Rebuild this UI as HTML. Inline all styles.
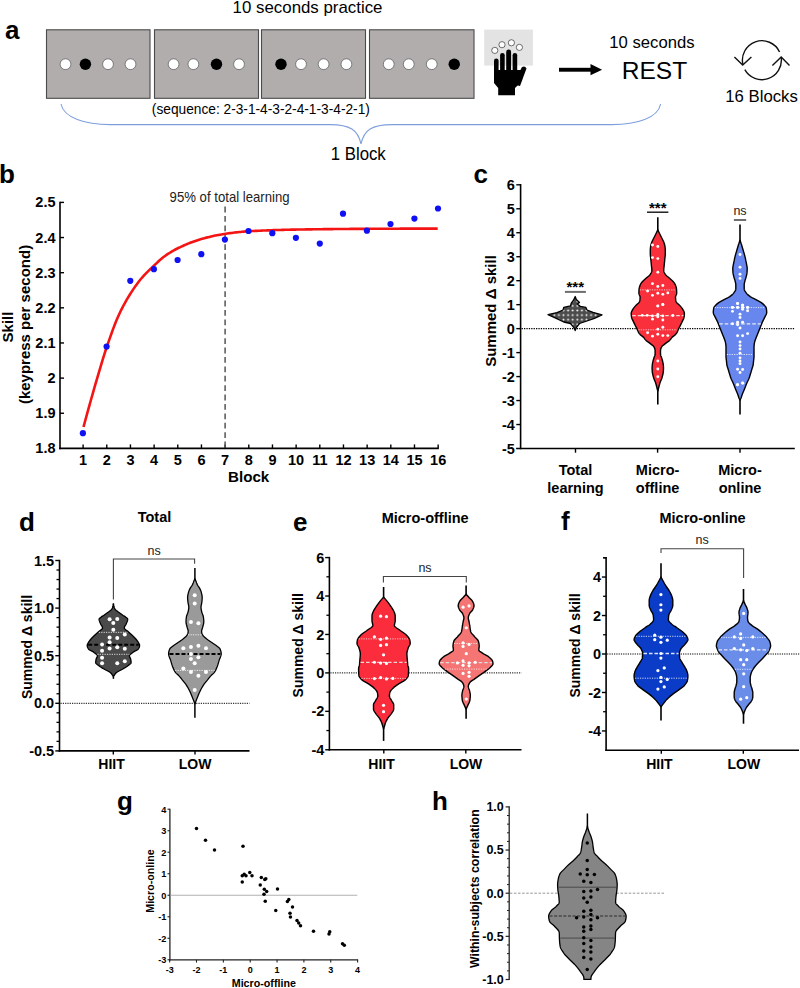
<!DOCTYPE html><html><head><meta charset="utf-8"><style>html,body{margin:0;padding:0;background:#fff;}svg{display:block;}text{font-family:"Liberation Sans",sans-serif;}</style></head><body>
<svg width="800" height="988" viewBox="0 0 800 988">
<rect width="800" height="988" fill="#fff"/>
<text x="5" y="38.5" font-size="26" font-weight="bold" text-anchor="start" fill="#000">a</text>
<text x="232.62" y="12.8" font-size="17" fill="#000" textLength="149.88" lengthAdjust="spacingAndGlyphs">10 seconds practice</text>
<rect x="46.5" y="29.8" width="103.5" height="68.5" fill="#b1adad" stroke="#4a4a4a" stroke-width="1.1"/>
<circle cx="65.5" cy="64.2" r="5.4" fill="#fff" stroke="#555" stroke-width="0.7"/>
<circle cx="85.4" cy="64.2" r="5.7" fill="#000"/>
<circle cx="108" cy="64.2" r="5.4" fill="#fff" stroke="#555" stroke-width="0.7"/>
<circle cx="130.5" cy="64.2" r="5.4" fill="#fff" stroke="#555" stroke-width="0.7"/>
<rect x="154.5" y="29.8" width="104" height="68.5" fill="#b1adad" stroke="#4a4a4a" stroke-width="1.1"/>
<circle cx="173.6" cy="64.2" r="5.4" fill="#fff" stroke="#555" stroke-width="0.7"/>
<circle cx="193.4" cy="64.2" r="5.4" fill="#fff" stroke="#555" stroke-width="0.7"/>
<circle cx="216.5" cy="64.2" r="5.7" fill="#000"/>
<circle cx="239" cy="64.2" r="5.4" fill="#fff" stroke="#555" stroke-width="0.7"/>
<rect x="261.5" y="29.8" width="104" height="68.5" fill="#b1adad" stroke="#4a4a4a" stroke-width="1.1"/>
<circle cx="281" cy="64.2" r="5.7" fill="#000"/>
<circle cx="301" cy="64.2" r="5.4" fill="#fff" stroke="#555" stroke-width="0.7"/>
<circle cx="323.6" cy="64.2" r="5.4" fill="#fff" stroke="#555" stroke-width="0.7"/>
<circle cx="346.4" cy="64.2" r="5.4" fill="#fff" stroke="#555" stroke-width="0.7"/>
<rect x="369.5" y="29.8" width="104.5" height="68.5" fill="#b1adad" stroke="#4a4a4a" stroke-width="1.1"/>
<circle cx="388.75" cy="64.2" r="5.4" fill="#fff" stroke="#555" stroke-width="0.7"/>
<circle cx="408.75" cy="64.2" r="5.4" fill="#fff" stroke="#555" stroke-width="0.7"/>
<circle cx="431.75" cy="64.2" r="5.4" fill="#fff" stroke="#555" stroke-width="0.7"/>
<circle cx="454.25" cy="64.2" r="5.7" fill="#000"/>
<rect x="484.2" y="29.6" width="48.7" height="36" fill="#e3e3e3"/>
<circle cx="494.8" cy="50.4" r="3.1" fill="#fff" stroke="#333" stroke-width="0.7"/>
<circle cx="502" cy="44.7" r="3.1" fill="#fff" stroke="#333" stroke-width="0.7"/>
<circle cx="511.4" cy="42.8" r="3.1" fill="#fff" stroke="#333" stroke-width="0.7"/>
<circle cx="519.4" cy="47.4" r="3.1" fill="#fff" stroke="#333" stroke-width="0.7"/>
<g fill="#000"><rect x="494" y="58.5" width="4.6" height="20" rx="2.3"/><rect x="500.1" y="53" width="4.6" height="22" rx="2.3"/><rect x="506.2" y="49.6" width="4.9" height="24" rx="2.45"/><rect x="512.6" y="53" width="4.6" height="22" rx="2.3"/><path d="M494,70 L521,70 L520,83 L515,88 L515,95.2 L498.2,95.2 L498.2,88 L494,83 Z"/><path d="M516,85 L520,86 L526.5,68.5 Q525,65.5 521.8,67.2 L516.5,78 Z"/></g>
<rect x="559" y="67.8" width="32" height="3.9" fill="#000"/>
<path d="M590.5,64 L602.1,69.7 L590.5,75.3 Z" fill="#000"/>
<text x="609.33" y="47.5" font-size="16.5" fill="#000" textLength="85.27" lengthAdjust="spacingAndGlyphs">10 seconds</text>
<text x="621.74" y="79.4" font-size="24.3" fill="#000" textLength="65.43" lengthAdjust="spacingAndGlyphs">REST</text>
<g fill="none" stroke="#111" stroke-width="1.4"><path d="M742.98,64.92 A19.5,19.5 0 0 1 779.57,51.96"/><path d="M744.84,69.65 A19.5,19.5 0 0 0 781.21,57.49"/><path d="M734.4,57.1 L742.7,65 L751.4,57.1"/><path d="M772.4,65.4 L781.2,57 L789.5,65.4"/></g>
<text x="725.22" y="102.2" font-size="17" fill="#000" textLength="72.58" lengthAdjust="spacingAndGlyphs">16 Blocks</text>
<path d="M61,104 C64,118 85,124.6 110,124.6 L330,124.6 C350,124.6 358,130 361,144 C364,130 372,124.6 392,124.6 L612,124.6 C637,124.6 658,118 660.6,104" fill="none" stroke="#7f9fdc" stroke-width="1.1"/>
<text x="151.85" y="114" font-size="14" fill="#000" textLength="218" lengthAdjust="spacingAndGlyphs">(sequence: 2-3-1-4-3-2-4-1-3-4-2-1)</text>
<text x="330.72" y="159.9" font-size="18" fill="#000" textLength="55.05" lengthAdjust="spacingAndGlyphs">1 Block</text>
<text x="-1" y="183.4" font-size="26" font-weight="bold" text-anchor="start" fill="#000">b</text>
<line x1="60" y1="201.7" x2="60" y2="449.2" stroke="#000" stroke-width="1.6"/>
<line x1="59.2" y1="448.4" x2="438.8" y2="448.4" stroke="#000" stroke-width="1.6"/>
<line x1="60" y1="202.4" x2="64" y2="202.4" stroke="#000" stroke-width="1.4"/>
<text x="55.5" y="207.4" font-size="14.5" font-weight="bold" text-anchor="end" fill="#000">2.5</text>
<line x1="60" y1="237.54" x2="64" y2="237.54" stroke="#000" stroke-width="1.4"/>
<text x="55.5" y="242.54" font-size="14.5" font-weight="bold" text-anchor="end" fill="#000">2.4</text>
<line x1="60" y1="272.69" x2="64" y2="272.69" stroke="#000" stroke-width="1.4"/>
<text x="55.5" y="277.69" font-size="14.5" font-weight="bold" text-anchor="end" fill="#000">2.3</text>
<line x1="60" y1="307.83" x2="64" y2="307.83" stroke="#000" stroke-width="1.4"/>
<text x="55.5" y="312.83" font-size="14.5" font-weight="bold" text-anchor="end" fill="#000">2.2</text>
<line x1="60" y1="342.97" x2="64" y2="342.97" stroke="#000" stroke-width="1.4"/>
<text x="55.5" y="347.97" font-size="14.5" font-weight="bold" text-anchor="end" fill="#000">2.1</text>
<line x1="60" y1="378.11" x2="64" y2="378.11" stroke="#000" stroke-width="1.4"/>
<text x="55.5" y="383.11" font-size="14.5" font-weight="bold" text-anchor="end" fill="#000">2</text>
<line x1="60" y1="413.26" x2="64" y2="413.26" stroke="#000" stroke-width="1.4"/>
<text x="55.5" y="418.26" font-size="14.5" font-weight="bold" text-anchor="end" fill="#000">1.9</text>
<text x="55.5" y="453.4" font-size="14.5" font-weight="bold" text-anchor="end" fill="#000">1.8</text>
<line x1="83.1" y1="448.4" x2="83.1" y2="444.4" stroke="#000" stroke-width="1.4"/>
<text x="83.1" y="465.1" font-size="14.5" font-weight="bold" text-anchor="middle" fill="#000">1</text>
<line x1="106.77" y1="448.4" x2="106.77" y2="444.4" stroke="#000" stroke-width="1.4"/>
<text x="106.77" y="465.1" font-size="14.5" font-weight="bold" text-anchor="middle" fill="#000">2</text>
<line x1="130.44" y1="448.4" x2="130.44" y2="444.4" stroke="#000" stroke-width="1.4"/>
<text x="130.44" y="465.1" font-size="14.5" font-weight="bold" text-anchor="middle" fill="#000">3</text>
<line x1="154.11" y1="448.4" x2="154.11" y2="444.4" stroke="#000" stroke-width="1.4"/>
<text x="154.11" y="465.1" font-size="14.5" font-weight="bold" text-anchor="middle" fill="#000">4</text>
<line x1="177.78" y1="448.4" x2="177.78" y2="444.4" stroke="#000" stroke-width="1.4"/>
<text x="177.78" y="465.1" font-size="14.5" font-weight="bold" text-anchor="middle" fill="#000">5</text>
<line x1="201.45" y1="448.4" x2="201.45" y2="444.4" stroke="#000" stroke-width="1.4"/>
<text x="201.45" y="465.1" font-size="14.5" font-weight="bold" text-anchor="middle" fill="#000">6</text>
<line x1="225.12" y1="448.4" x2="225.12" y2="444.4" stroke="#000" stroke-width="1.4"/>
<text x="225.12" y="465.1" font-size="14.5" font-weight="bold" text-anchor="middle" fill="#000">7</text>
<line x1="248.79" y1="448.4" x2="248.79" y2="444.4" stroke="#000" stroke-width="1.4"/>
<text x="248.79" y="465.1" font-size="14.5" font-weight="bold" text-anchor="middle" fill="#000">8</text>
<line x1="272.46" y1="448.4" x2="272.46" y2="444.4" stroke="#000" stroke-width="1.4"/>
<text x="272.46" y="465.1" font-size="14.5" font-weight="bold" text-anchor="middle" fill="#000">9</text>
<line x1="296.13" y1="448.4" x2="296.13" y2="444.4" stroke="#000" stroke-width="1.4"/>
<text x="296.13" y="465.1" font-size="14.5" font-weight="bold" text-anchor="middle" fill="#000">10</text>
<line x1="319.8" y1="448.4" x2="319.8" y2="444.4" stroke="#000" stroke-width="1.4"/>
<text x="319.8" y="465.1" font-size="14.5" font-weight="bold" text-anchor="middle" fill="#000">11</text>
<line x1="343.47" y1="448.4" x2="343.47" y2="444.4" stroke="#000" stroke-width="1.4"/>
<text x="343.47" y="465.1" font-size="14.5" font-weight="bold" text-anchor="middle" fill="#000">12</text>
<line x1="367.14" y1="448.4" x2="367.14" y2="444.4" stroke="#000" stroke-width="1.4"/>
<text x="367.14" y="465.1" font-size="14.5" font-weight="bold" text-anchor="middle" fill="#000">13</text>
<line x1="390.81" y1="448.4" x2="390.81" y2="444.4" stroke="#000" stroke-width="1.4"/>
<text x="390.81" y="465.1" font-size="14.5" font-weight="bold" text-anchor="middle" fill="#000">14</text>
<line x1="414.48" y1="448.4" x2="414.48" y2="444.4" stroke="#000" stroke-width="1.4"/>
<text x="414.48" y="465.1" font-size="14.5" font-weight="bold" text-anchor="middle" fill="#000">15</text>
<line x1="438.15" y1="448.4" x2="438.15" y2="444.4" stroke="#000" stroke-width="1.4"/>
<text x="438.15" y="465.1" font-size="14.5" font-weight="bold" text-anchor="middle" fill="#000">16</text>
<text x="227.99" y="482" font-size="15.3" font-weight="bold" fill="#000" textLength="41.25" lengthAdjust="spacingAndGlyphs">Block</text>
<text x="12.5" y="327" font-size="15" font-weight="bold" text-anchor="middle" fill="#000" transform="rotate(-90 12.5 327)">Skill</text>
<text x="29.6" y="324.5" font-size="15" font-weight="bold" text-anchor="middle" fill="#000" transform="rotate(-90 29.6 324.5)">(keypress per second)</text>
<text x="169.58" y="202.1" font-size="14.2" fill="#222" textLength="120.07" lengthAdjust="spacingAndGlyphs">95% of total learning</text>
<line x1="225.1" y1="206.6" x2="225.1" y2="448.4" stroke="#555" stroke-width="1.5" stroke-dasharray="5.8 3.6"/>
<path d="M83.5,427 L84.98,421.49 L86.46,416.04 L87.95,410.64 L89.43,405.3 L90.91,400.02 L92.39,394.79 L93.87,389.61 L95.36,384.48 L96.84,379.4 L98.32,374.36 L99.8,369.31 L101.28,364.3 L102.77,359.39 L104.25,354.6 L105.73,349.99 L107.21,345.6 L108.69,341.3 L110.18,337.08 L111.66,332.94 L113.14,328.92 L114.62,325.04 L116.1,321.31 L117.59,317.77 L119.07,314.43 L120.55,311.3 L122.03,308.32 L123.51,305.48 L125,302.76 L126.48,300.16 L127.96,297.66 L129.44,295.24 L130.92,292.89 L132.41,290.61 L133.89,288.4 L135.37,286.25 L136.85,284.19 L138.33,282.2 L139.82,280.3 L141.3,278.49 L142.78,276.78 L144.26,275.16 L145.74,273.61 L147.23,272.12 L148.71,270.68 L150.19,269.27 L151.67,267.86 L153.15,266.46 L154.64,265.03 L156.12,263.61 L157.6,262.19 L159.08,260.81 L160.56,259.48 L162.05,258.22 L163.53,257.05 L165.01,255.97 L166.49,254.93 L167.97,253.93 L169.46,252.97 L170.94,252.05 L172.42,251.16 L173.9,250.32 L175.38,249.52 L176.87,248.76 L178.35,248.04 L179.83,247.33 L181.31,246.64 L182.79,245.96 L184.28,245.3 L185.76,244.65 L187.24,244.02 L188.72,243.41 L190.2,242.82 L191.69,242.25 L193.17,241.7 L194.65,241.17 L196.13,240.65 L197.61,240.16 L199.1,239.7 L200.58,239.25 L202.06,238.83 L203.54,238.42 L205.02,238.02 L206.51,237.63 L207.99,237.25 L209.47,236.89 L210.95,236.53 L212.43,236.19 L213.92,235.85 L215.4,235.54 L216.88,235.23 L218.36,234.94 L219.84,234.67 L221.33,234.41 L222.81,234.16 L224.29,233.93 L225.77,233.72 L227.25,233.51 L228.74,233.31 L230.22,233.11 L231.7,232.92 L233.18,232.74 L234.66,232.56 L236.15,232.39 L237.63,232.23 L239.11,232.07 L240.59,231.92 L242.07,231.78 L243.56,231.65 L245.04,231.53 L246.52,231.42 L248,231.32 L249.48,231.23 L250.97,231.15 L252.45,231.07 L253.93,230.99 L255.41,230.92 L256.89,230.85 L258.38,230.78 L259.86,230.71 L261.34,230.64 L262.82,230.57 L264.31,230.51 L265.79,230.45 L267.27,230.39 L268.75,230.33 L270.23,230.28 L271.72,230.22 L273.2,230.17 L274.68,230.12 L276.16,230.07 L277.64,230.02 L279.13,229.98 L280.61,229.93 L282.09,229.89 L283.57,229.85 L285.05,229.81 L286.54,229.77 L288.02,229.74 L289.5,229.7 L290.98,229.67 L292.46,229.64 L293.95,229.61 L295.43,229.58 L296.91,229.55 L298.39,229.53 L299.87,229.5 L301.36,229.48 L302.84,229.46 L304.32,229.43 L305.8,229.41 L307.28,229.39 L308.77,229.37 L310.25,229.35 L311.73,229.33 L313.21,229.31 L314.69,229.29 L316.18,229.27 L317.66,229.25 L319.14,229.23 L320.62,229.21 L322.1,229.19 L323.59,229.17 L325.07,229.16 L326.55,229.14 L328.03,229.12 L329.51,229.11 L331,229.09 L332.48,229.08 L333.96,229.06 L335.44,229.05 L336.92,229.03 L338.41,229.02 L339.89,229 L341.37,228.99 L342.85,228.98 L344.33,228.97 L345.82,228.95 L347.3,228.94 L348.78,228.93 L350.26,228.92 L351.74,228.91 L353.23,228.9 L354.71,228.89 L356.19,228.88 L357.67,228.87 L359.15,228.86 L360.64,228.85 L362.12,228.84 L363.6,228.83 L365.08,228.82 L366.56,228.82 L368.05,228.81 L369.53,228.8 L371.01,228.8 L372.49,228.79 L373.97,228.78 L375.46,228.78 L376.94,228.77 L378.42,228.76 L379.9,228.76 L381.38,228.75 L382.87,228.74 L384.35,228.74 L385.83,228.73 L387.31,228.72 L388.79,228.72 L390.28,228.71 L391.76,228.71 L393.24,228.7 L394.72,228.69 L396.2,228.69 L397.69,228.68 L399.17,228.68 L400.65,228.67 L402.13,228.67 L403.61,228.66 L405.1,228.66 L406.58,228.65 L408.06,228.65 L409.54,228.64 L411.02,228.64 L412.51,228.64 L413.99,228.63 L415.47,228.63 L416.95,228.62 L418.43,228.62 L419.92,228.62 L421.4,228.62 L422.88,228.61 L424.36,228.61 L425.84,228.61 L427.33,228.61 L428.81,228.6 L430.29,228.6 L431.77,228.6 L433.25,228.6 L434.74,228.6 L436.22,228.6 L437.7,228.6" fill="none" stroke="#f41414" stroke-width="2.6" stroke-linecap="butt"/>
<circle cx="82.9" cy="433.2" r="3.1" fill="#1010f4"/>
<circle cx="106.6" cy="346.6" r="3.1" fill="#1010f4"/>
<circle cx="130.3" cy="280.8" r="3.1" fill="#1010f4"/>
<circle cx="153.9" cy="269.2" r="3.1" fill="#1010f4"/>
<circle cx="177.6" cy="260" r="3.1" fill="#1010f4"/>
<circle cx="201.3" cy="254.2" r="3.1" fill="#1010f4"/>
<circle cx="224.9" cy="239.6" r="3.1" fill="#1010f4"/>
<circle cx="248.5" cy="231" r="3.1" fill="#1010f4"/>
<circle cx="272.3" cy="233.2" r="3.1" fill="#1010f4"/>
<circle cx="295.9" cy="237.8" r="3.1" fill="#1010f4"/>
<circle cx="319.8" cy="243.6" r="3.1" fill="#1010f4"/>
<circle cx="343" cy="213.7" r="3.1" fill="#1010f4"/>
<circle cx="366.9" cy="230.7" r="3.1" fill="#1010f4"/>
<circle cx="390.5" cy="224" r="3.1" fill="#1010f4"/>
<circle cx="414.4" cy="218.6" r="3.1" fill="#1010f4"/>
<circle cx="438" cy="208.5" r="3.1" fill="#1010f4"/>
<text x="473.5" y="183.2" font-size="26" font-weight="bold" text-anchor="start" fill="#000">c</text>
<line x1="520.6" y1="184.1" x2="520.6" y2="449.3" stroke="#000" stroke-width="1.6"/>
<line x1="516.1" y1="448.5" x2="794.8" y2="448.5" stroke="#000" stroke-width="1.6"/>
<line x1="516.3" y1="184.8" x2="520.6" y2="184.8" stroke="#000" stroke-width="1.4"/>
<text x="514.8" y="190" font-size="14.5" font-weight="bold" text-anchor="end" fill="#000">6</text>
<line x1="516.3" y1="208.77" x2="520.6" y2="208.77" stroke="#000" stroke-width="1.4"/>
<text x="514.8" y="213.97" font-size="14.5" font-weight="bold" text-anchor="end" fill="#000">5</text>
<line x1="516.3" y1="232.75" x2="520.6" y2="232.75" stroke="#000" stroke-width="1.4"/>
<text x="514.8" y="237.95" font-size="14.5" font-weight="bold" text-anchor="end" fill="#000">4</text>
<line x1="516.3" y1="256.72" x2="520.6" y2="256.72" stroke="#000" stroke-width="1.4"/>
<text x="514.8" y="261.92" font-size="14.5" font-weight="bold" text-anchor="end" fill="#000">3</text>
<line x1="516.3" y1="280.69" x2="520.6" y2="280.69" stroke="#000" stroke-width="1.4"/>
<text x="514.8" y="285.89" font-size="14.5" font-weight="bold" text-anchor="end" fill="#000">2</text>
<line x1="516.3" y1="304.66" x2="520.6" y2="304.66" stroke="#000" stroke-width="1.4"/>
<text x="514.8" y="309.86" font-size="14.5" font-weight="bold" text-anchor="end" fill="#000">1</text>
<line x1="516.3" y1="328.64" x2="520.6" y2="328.64" stroke="#000" stroke-width="1.4"/>
<text x="514.8" y="333.84" font-size="14.5" font-weight="bold" text-anchor="end" fill="#000">0</text>
<line x1="516.3" y1="352.61" x2="520.6" y2="352.61" stroke="#000" stroke-width="1.4"/>
<text x="514.8" y="357.81" font-size="14.5" font-weight="bold" text-anchor="end" fill="#000">-1</text>
<line x1="516.3" y1="376.58" x2="520.6" y2="376.58" stroke="#000" stroke-width="1.4"/>
<text x="514.8" y="381.78" font-size="14.5" font-weight="bold" text-anchor="end" fill="#000">-2</text>
<line x1="516.3" y1="400.55" x2="520.6" y2="400.55" stroke="#000" stroke-width="1.4"/>
<text x="514.8" y="405.75" font-size="14.5" font-weight="bold" text-anchor="end" fill="#000">-3</text>
<line x1="516.3" y1="424.53" x2="520.6" y2="424.53" stroke="#000" stroke-width="1.4"/>
<text x="514.8" y="429.73" font-size="14.5" font-weight="bold" text-anchor="end" fill="#000">-4</text>
<text x="514.8" y="453.7" font-size="14.5" font-weight="bold" text-anchor="end" fill="#000">-5</text>
<line x1="575.5" y1="448.5" x2="575.5" y2="452.7" stroke="#000" stroke-width="1.4"/>
<line x1="657.6" y1="448.5" x2="657.6" y2="452.7" stroke="#000" stroke-width="1.4"/>
<line x1="740" y1="448.5" x2="740" y2="452.7" stroke="#000" stroke-width="1.4"/>
<text x="495.8" y="311" font-size="15" font-weight="bold" text-anchor="middle" fill="#000" transform="rotate(-90 495.8 311)">Summed &#916; skill</text>
<text x="575.5" y="474.8" font-size="14.5" font-weight="bold" text-anchor="middle" fill="#000">Total</text>
<text x="575.5" y="492.5" font-size="14.5" font-weight="bold" text-anchor="middle" fill="#000">learning</text>
<text x="657.6" y="474.6" font-size="14.5" font-weight="bold" text-anchor="middle" fill="#000">Micro-</text>
<text x="657.6" y="492.5" font-size="14.5" font-weight="bold" text-anchor="middle" fill="#000">offline</text>
<text x="740" y="474.6" font-size="14.5" font-weight="bold" text-anchor="middle" fill="#000">Micro-</text>
<text x="740" y="492.5" font-size="14.5" font-weight="bold" text-anchor="middle" fill="#000">online</text>
<line x1="521.6" y1="328.64" x2="795" y2="328.64" stroke="#000" stroke-width="1.1" stroke-dasharray="1.3 1.1"/>
<defs><pattern id="dotpat" width="4.6" height="4.6" patternUnits="userSpaceOnUse" x="0" y="0"><rect width="4.6" height="4.6" fill="#4c4c4c"/><circle cx="2.3" cy="2.3" r="0.95" fill="#fff"/></pattern></defs>
<path d="M575.2,296.5 L576.3,299.5 L579.5,302.5 L577.3,304 L580.3,306.3 L585.9,307.4 L587,310 L593,312.3 L602,314.9 L594.5,318.3 L584,322 L579.5,323.5 L576.5,327.3 L575.2,330.6 L573.7,327.3 L570.5,323.5 L563.75,322 L556.25,318.3 L548,314.6 L557,312.6 L563,310 L563.75,307.4 L570.5,305.9 L571.25,303.25 L573.5,300.25 Z" fill="url(#dotpat)" stroke="#000" stroke-width="1.3" stroke-linejoin="round"/>
<text x="575.3" y="292" font-size="15" font-weight="bold" text-anchor="middle" fill="#000">***</text>
<line x1="564.9" y1="291.9" x2="585.9" y2="291.9" stroke="#6e6e6e" stroke-width="2"/>
<path d="M657.8,229.8 L658.02,230.3 L658.25,230.8 L658.48,231.3 L658.71,231.8 L658.94,232.3 L659.17,232.79 L659.41,233.29 L659.65,233.79 L659.89,234.29 L660.14,234.79 L660.39,235.29 L660.64,235.79 L660.89,236.29 L661.14,236.79 L661.39,237.29 L661.64,237.79 L661.89,238.28 L662.15,238.78 L662.41,239.28 L662.68,239.78 L662.93,240.28 L663.18,240.78 L663.41,241.28 L663.61,241.78 L663.8,242.28 L663.99,242.78 L664.17,243.27 L664.34,243.77 L664.5,244.27 L664.64,244.77 L664.76,245.27 L664.86,245.77 L664.94,246.27 L665.01,246.77 L665.08,247.27 L665.14,247.77 L665.2,248.27 L665.24,248.76 L665.28,249.26 L665.3,249.76 L665.3,250.26 L665.3,250.76 L665.3,251.26 L665.3,251.76 L665.3,252.26 L665.3,252.76 L665.3,253.26 L665.3,253.76 L665.3,254.25 L665.28,254.75 L665.25,255.25 L665.2,255.75 L665.14,256.25 L665.07,256.75 L665.01,257.25 L664.95,257.75 L664.9,258.25 L664.85,258.75 L664.8,259.25 L664.75,259.74 L664.7,260.24 L664.65,260.74 L664.6,261.24 L664.55,261.74 L664.5,262.24 L664.45,262.74 L664.4,263.24 L664.35,263.74 L664.3,264.24 L664.25,264.73 L664.2,265.23 L664.16,265.73 L664.11,266.23 L664.05,266.73 L663.99,267.23 L663.92,267.73 L663.86,268.23 L663.8,268.73 L663.75,269.23 L663.72,269.73 L663.7,270.22 L663.73,270.72 L663.82,271.22 L663.97,271.72 L664.17,272.22 L664.41,272.72 L664.68,273.22 L664.96,273.72 L665.25,274.22 L665.59,274.72 L666.03,275.22 L666.56,275.71 L667.15,276.21 L667.77,276.71 L668.4,277.21 L669.02,277.71 L669.6,278.21 L670.13,278.71 L670.67,279.21 L671.22,279.71 L671.76,280.21 L672.29,280.71 L672.79,281.2 L673.25,281.7 L673.65,282.2 L674.01,282.7 L674.36,283.2 L674.68,283.7 L674.99,284.2 L675.26,284.7 L675.5,285.2 L675.7,285.7 L675.86,286.2 L676,286.69 L676.13,287.19 L676.25,287.69 L676.36,288.19 L676.45,288.69 L676.53,289.19 L676.58,289.69 L676.61,290.19 L676.63,290.69 L676.66,291.19 L676.68,291.68 L676.69,292.18 L676.7,292.68 L676.7,293.18 L676.63,293.68 L676.48,294.18 L676.29,294.68 L676.06,295.18 L675.85,295.68 L675.66,296.18 L675.54,296.68 L675.5,297.17 L675.51,297.67 L675.53,298.17 L675.57,298.67 L675.61,299.17 L675.67,299.67 L675.73,300.17 L675.81,300.67 L675.89,301.17 L676.06,301.67 L676.38,302.17 L676.81,302.66 L677.33,303.16 L677.89,303.66 L678.46,304.16 L678.99,304.66 L679.47,305.16 L679.89,305.66 L680.32,306.16 L680.75,306.66 L681.17,307.16 L681.57,307.66 L681.96,308.15 L682.31,308.65 L682.62,309.15 L682.9,309.65 L683.19,310.15 L683.48,310.65 L683.75,311.15 L683.99,311.65 L684.19,312.15 L684.33,312.65 L684.4,313.14 L684.4,313.64 L684.38,314.14 L684.35,314.64 L684.3,315.14 L684.25,315.64 L684.19,316.14 L684.12,316.64 L684.04,317.14 L683.96,317.64 L683.82,318.14 L683.64,318.63 L683.42,319.13 L683.18,319.63 L682.93,320.13 L682.67,320.63 L682.43,321.13 L682.2,321.63 L681.96,322.13 L681.72,322.63 L681.48,323.13 L681.23,323.63 L680.99,324.12 L680.74,324.62 L680.49,325.12 L680.24,325.62 L679.99,326.12 L679.74,326.62 L679.49,327.12 L679.24,327.62 L678.99,328.12 L678.74,328.62 L678.49,329.12 L678.24,329.61 L678.01,330.11 L677.8,330.61 L677.58,331.11 L677.37,331.61 L677.14,332.11 L676.89,332.61 L676.61,333.11 L676.3,333.61 L675.89,334.11 L675.37,334.6 L674.78,335.1 L674.15,335.6 L673.5,336.1 L672.87,336.6 L672.29,337.1 L671.8,337.6 L671.4,338.1 L671.05,338.6 L670.72,339.1 L670.35,339.6 L669.91,340.09 L669.36,340.59 L668.73,341.09 L668.03,341.59 L667.31,342.09 L666.59,342.59 L665.91,343.09 L665.3,343.59 L664.68,344.09 L664.04,344.59 L663.41,345.09 L662.82,345.58 L662.3,346.08 L661.87,346.58 L661.56,347.08 L661.33,347.58 L661.11,348.08 L660.92,348.58 L660.75,349.08 L660.62,349.58 L660.53,350.08 L660.5,350.58 L660.5,351.07 L660.5,351.57 L660.5,352.07 L660.5,352.57 L660.5,353.07 L660.5,353.57 L660.5,354.07 L660.52,354.57 L660.61,355.07 L660.76,355.57 L660.94,356.07 L661.13,356.56 L661.33,357.06 L661.51,357.56 L661.66,358.06 L661.82,358.56 L661.98,359.06 L662.14,359.56 L662.29,360.06 L662.43,360.56 L662.57,361.06 L662.68,361.55 L662.8,362.05 L662.92,362.55 L663.03,363.05 L663.13,363.55 L663.21,364.05 L663.27,364.55 L663.32,365.05 L663.36,365.55 L663.4,366.05 L663.44,366.55 L663.47,367.04 L663.49,367.54 L663.5,368.04 L663.5,368.54 L663.49,369.04 L663.47,369.54 L663.44,370.04 L663.41,370.54 L663.37,371.04 L663.33,371.54 L663.29,372.04 L663.22,372.53 L663.14,373.03 L663.04,373.53 L662.93,374.03 L662.81,374.53 L662.69,375.03 L662.57,375.53 L662.44,376.03 L662.31,376.53 L662.17,377.03 L662.03,377.53 L661.87,378.02 L661.71,378.52 L661.54,379.02 L661.36,379.52 L661.15,380.02 L660.93,380.52 L660.7,381.02 L660.48,381.52 L660.28,382.02 L660.09,382.52 L659.93,383.01 L659.78,383.51 L659.64,384.01 L659.5,384.51 L659.36,385.01 L659.23,385.51 L659.1,386.01 L658.97,386.51 L658.84,387.01 L658.72,387.51 L658.6,388.01 L658.48,388.5 L658.36,389 L658.23,389.5 L658.09,390 L657.95,390.5 L657.8,391 L657.8,391 L657.65,390.5 L657.51,390 L657.37,389.5 L657.24,389 L657.12,388.5 L657,388.01 L656.88,387.51 L656.76,387.01 L656.63,386.51 L656.5,386.01 L656.37,385.51 L656.24,385.01 L656.1,384.51 L655.96,384.01 L655.82,383.51 L655.67,383.01 L655.51,382.52 L655.32,382.02 L655.12,381.52 L654.9,381.02 L654.67,380.52 L654.45,380.02 L654.24,379.52 L654.06,379.02 L653.89,378.52 L653.73,378.02 L653.57,377.53 L653.43,377.03 L653.29,376.53 L653.16,376.03 L653.03,375.53 L652.91,375.03 L652.79,374.53 L652.67,374.03 L652.56,373.53 L652.46,373.03 L652.38,372.53 L652.31,372.04 L652.27,371.54 L652.23,371.04 L652.19,370.54 L652.16,370.04 L652.13,369.54 L652.11,369.04 L652.1,368.54 L652.1,368.04 L652.11,367.54 L652.13,367.04 L652.16,366.55 L652.2,366.05 L652.24,365.55 L652.28,365.05 L652.33,364.55 L652.39,364.05 L652.47,363.55 L652.57,363.05 L652.68,362.55 L652.8,362.05 L652.92,361.55 L653.03,361.06 L653.17,360.56 L653.31,360.06 L653.46,359.56 L653.62,359.06 L653.78,358.56 L653.94,358.06 L654.09,357.56 L654.27,357.06 L654.47,356.56 L654.66,356.07 L654.84,355.57 L654.99,355.07 L655.08,354.57 L655.1,354.07 L655.1,353.57 L655.1,353.07 L655.1,352.57 L655.1,352.07 L655.1,351.57 L655.1,351.07 L655.1,350.58 L655.07,350.08 L654.98,349.58 L654.85,349.08 L654.68,348.58 L654.49,348.08 L654.27,347.58 L654.04,347.08 L653.73,346.58 L653.3,346.08 L652.78,345.58 L652.19,345.09 L651.56,344.59 L650.92,344.09 L650.3,343.59 L649.69,343.09 L649.01,342.59 L648.29,342.09 L647.57,341.59 L646.87,341.09 L646.24,340.59 L645.69,340.09 L645.25,339.6 L644.88,339.1 L644.55,338.6 L644.2,338.1 L643.8,337.6 L643.31,337.1 L642.73,336.6 L642.1,336.1 L641.45,335.6 L640.82,335.1 L640.23,334.6 L639.71,334.11 L639.3,333.61 L638.99,333.11 L638.71,332.61 L638.46,332.11 L638.23,331.61 L638.02,331.11 L637.8,330.61 L637.59,330.11 L637.36,329.61 L637.11,329.12 L636.86,328.62 L636.61,328.12 L636.36,327.62 L636.11,327.12 L635.86,326.62 L635.61,326.12 L635.36,325.62 L635.11,325.12 L634.86,324.62 L634.61,324.12 L634.37,323.63 L634.12,323.13 L633.88,322.63 L633.64,322.13 L633.4,321.63 L633.17,321.13 L632.93,320.63 L632.67,320.13 L632.42,319.63 L632.18,319.13 L631.96,318.63 L631.78,318.14 L631.64,317.64 L631.56,317.14 L631.48,316.64 L631.41,316.14 L631.35,315.64 L631.3,315.14 L631.25,314.64 L631.22,314.14 L631.2,313.64 L631.2,313.14 L631.27,312.65 L631.41,312.15 L631.61,311.65 L631.85,311.15 L632.12,310.65 L632.41,310.15 L632.7,309.65 L632.98,309.15 L633.29,308.65 L633.64,308.15 L634.03,307.66 L634.43,307.16 L634.85,306.66 L635.28,306.16 L635.71,305.66 L636.13,305.16 L636.61,304.66 L637.14,304.16 L637.71,303.66 L638.27,303.16 L638.79,302.66 L639.22,302.17 L639.54,301.67 L639.71,301.17 L639.79,300.67 L639.87,300.17 L639.93,299.67 L639.99,299.17 L640.03,298.67 L640.07,298.17 L640.09,297.67 L640.1,297.17 L640.06,296.68 L639.94,296.18 L639.75,295.68 L639.54,295.18 L639.31,294.68 L639.12,294.18 L638.97,293.68 L638.9,293.18 L638.9,292.68 L638.91,292.18 L638.92,291.68 L638.94,291.19 L638.97,290.69 L638.99,290.19 L639.02,289.69 L639.07,289.19 L639.15,288.69 L639.24,288.19 L639.35,287.69 L639.47,287.19 L639.6,286.69 L639.74,286.2 L639.9,285.7 L640.1,285.2 L640.34,284.7 L640.61,284.2 L640.92,283.7 L641.24,283.2 L641.59,282.7 L641.95,282.2 L642.35,281.7 L642.81,281.2 L643.31,280.71 L643.84,280.21 L644.38,279.71 L644.93,279.21 L645.47,278.71 L646,278.21 L646.58,277.71 L647.2,277.21 L647.83,276.71 L648.45,276.21 L649.04,275.71 L649.57,275.22 L650.01,274.72 L650.35,274.22 L650.64,273.72 L650.92,273.22 L651.19,272.72 L651.43,272.22 L651.63,271.72 L651.78,271.22 L651.87,270.72 L651.9,270.22 L651.88,269.73 L651.85,269.23 L651.8,268.73 L651.74,268.23 L651.68,267.73 L651.61,267.23 L651.55,266.73 L651.49,266.23 L651.44,265.73 L651.4,265.23 L651.35,264.73 L651.3,264.24 L651.25,263.74 L651.2,263.24 L651.15,262.74 L651.1,262.24 L651.05,261.74 L651,261.24 L650.95,260.74 L650.9,260.24 L650.85,259.74 L650.8,259.25 L650.75,258.75 L650.7,258.25 L650.65,257.75 L650.59,257.25 L650.53,256.75 L650.46,256.25 L650.4,255.75 L650.35,255.25 L650.32,254.75 L650.3,254.25 L650.3,253.76 L650.3,253.26 L650.3,252.76 L650.3,252.26 L650.3,251.76 L650.3,251.26 L650.3,250.76 L650.3,250.26 L650.3,249.76 L650.32,249.26 L650.36,248.76 L650.4,248.27 L650.46,247.77 L650.52,247.27 L650.59,246.77 L650.66,246.27 L650.74,245.77 L650.84,245.27 L650.96,244.77 L651.1,244.27 L651.26,243.77 L651.43,243.27 L651.61,242.78 L651.8,242.28 L651.99,241.78 L652.19,241.28 L652.42,240.78 L652.67,240.28 L652.92,239.78 L653.19,239.28 L653.45,238.78 L653.71,238.28 L653.96,237.79 L654.21,237.29 L654.46,236.79 L654.71,236.29 L654.96,235.79 L655.21,235.29 L655.46,234.79 L655.71,234.29 L655.95,233.79 L656.19,233.29 L656.43,232.79 L656.66,232.3 L656.89,231.8 L657.12,231.3 L657.35,230.8 L657.58,230.3 L657.8,229.8 Z" fill="#f9303c" stroke="#000" stroke-width="1.4" stroke-linejoin="round"/>
<line x1="657.8" y1="217.3" x2="657.8" y2="230.8" stroke="#000" stroke-width="1.6"/>
<line x1="657.8" y1="390" x2="657.8" y2="404.4" stroke="#000" stroke-width="1.6"/>
<line x1="639.91" y1="289.9" x2="675.69" y2="289.9" stroke="#f4c0c0" stroke-width="1" stroke-dasharray="1.2 1.2"/>
<line x1="632.25" y1="315.6" x2="683.35" y2="315.6" stroke="#f0dada" stroke-width="1.3" stroke-dasharray="3.5 2"/>
<line x1="638.34" y1="329.8" x2="677.26" y2="329.8" stroke="#f4c0c0" stroke-width="1" stroke-dasharray="1.2 1.2"/>
<text x="657.8" y="213" font-size="15" font-weight="bold" text-anchor="middle" fill="#000">***</text>
<line x1="647" y1="212.2" x2="668.4" y2="212.2" stroke="#111" stroke-width="1.4"/>
<circle cx="652.48" cy="245.05" r="1.45" fill="#fff"/>
<circle cx="657.82" cy="246.5" r="1.45" fill="#fff"/>
<circle cx="652.48" cy="257.62" r="1.45" fill="#fff"/>
<circle cx="657.82" cy="258.62" r="1.45" fill="#fff"/>
<circle cx="657.82" cy="272.3" r="1.45" fill="#fff"/>
<circle cx="652.48" cy="283.65" r="1.45" fill="#fff"/>
<circle cx="657.82" cy="286.54" r="1.45" fill="#fff"/>
<circle cx="662.83" cy="285.43" r="1.45" fill="#fff"/>
<circle cx="647.59" cy="290.99" r="1.45" fill="#fff"/>
<circle cx="657.82" cy="293.21" r="1.45" fill="#fff"/>
<circle cx="662.83" cy="294.33" r="1.45" fill="#fff"/>
<circle cx="667.83" cy="292.88" r="1.45" fill="#fff"/>
<circle cx="652.48" cy="295.33" r="1.45" fill="#fff"/>
<circle cx="657.82" cy="305.9" r="1.45" fill="#fff"/>
<circle cx="662.83" cy="304.56" r="1.45" fill="#fff"/>
<circle cx="657.82" cy="306.12" r="1.45" fill="#fff"/>
<circle cx="662.83" cy="304.67" r="1.45" fill="#fff"/>
<circle cx="642.25" cy="315.35" r="1.45" fill="#fff"/>
<circle cx="647.25" cy="315.35" r="1.45" fill="#fff"/>
<circle cx="652.48" cy="315.91" r="1.45" fill="#fff"/>
<circle cx="657.82" cy="314.46" r="1.45" fill="#fff"/>
<circle cx="657.82" cy="316.69" r="1.45" fill="#fff"/>
<circle cx="662.83" cy="315.91" r="1.45" fill="#fff"/>
<circle cx="672.84" cy="315.57" r="1.45" fill="#fff"/>
<circle cx="652.48" cy="319.13" r="1.45" fill="#fff"/>
<circle cx="662.83" cy="320.02" r="1.45" fill="#fff"/>
<circle cx="662.83" cy="327.25" r="1.45" fill="#fff"/>
<circle cx="657.82" cy="329.14" r="1.45" fill="#fff"/>
<circle cx="647.59" cy="332.81" r="1.45" fill="#fff"/>
<circle cx="657.82" cy="334.26" r="1.45" fill="#fff"/>
<circle cx="652.48" cy="336.15" r="1.45" fill="#fff"/>
<circle cx="662.83" cy="335.6" r="1.45" fill="#fff"/>
<circle cx="667.83" cy="335.6" r="1.45" fill="#fff"/>
<circle cx="657.82" cy="360.96" r="1.45" fill="#fff"/>
<circle cx="657.82" cy="368.97" r="1.45" fill="#fff"/>
<circle cx="657.82" cy="376.75" r="1.45" fill="#fff"/>
<path d="M740,240.2 L740.18,240.7 L740.36,241.2 L740.53,241.7 L740.7,242.2 L740.87,242.7 L741.04,243.2 L741.2,243.7 L741.37,244.19 L741.52,244.69 L741.68,245.19 L741.83,245.69 L741.98,246.19 L742.13,246.69 L742.27,247.19 L742.42,247.69 L742.57,248.19 L742.72,248.69 L742.86,249.19 L743.01,249.69 L743.16,250.19 L743.31,250.69 L743.45,251.19 L743.6,251.69 L743.74,252.19 L743.88,252.68 L744.02,253.18 L744.17,253.68 L744.31,254.18 L744.45,254.68 L744.59,255.18 L744.72,255.68 L744.85,256.18 L744.97,256.68 L745.08,257.18 L745.2,257.68 L745.31,258.18 L745.42,258.68 L745.52,259.18 L745.63,259.68 L745.73,260.18 L745.84,260.67 L745.94,261.17 L746.05,261.67 L746.15,262.17 L746.26,262.67 L746.36,263.17 L746.45,263.67 L746.54,264.17 L746.63,264.67 L746.72,265.17 L746.82,265.67 L746.92,266.17 L747.01,266.67 L747.09,267.17 L747.15,267.67 L747.19,268.16 L747.2,268.66 L747.19,269.16 L747.18,269.66 L747.16,270.16 L747.14,270.66 L747.11,271.16 L747.07,271.66 L747.03,272.16 L747,272.66 L746.94,273.16 L746.87,273.66 L746.78,274.16 L746.68,274.66 L746.57,275.16 L746.45,275.66 L746.33,276.15 L746.21,276.65 L746.08,277.15 L745.94,277.65 L745.78,278.15 L745.62,278.65 L745.45,279.15 L745.29,279.65 L745.14,280.15 L745.01,280.65 L744.89,281.15 L744.76,281.65 L744.63,282.15 L744.5,282.65 L744.39,283.15 L744.3,283.65 L744.23,284.14 L744.2,284.64 L744.2,285.14 L744.2,285.64 L744.2,286.14 L744.2,286.64 L744.2,287.14 L744.2,287.64 L744.2,288.14 L744.2,288.64 L744.22,289.14 L744.32,289.64 L744.5,290.14 L744.73,290.64 L745.02,291.14 L745.33,291.64 L745.67,292.13 L746.02,292.63 L746.37,293.13 L746.77,293.63 L747.24,294.13 L747.76,294.63 L748.34,295.13 L748.96,295.63 L749.62,296.13 L750.31,296.63 L751.05,297.13 L751.94,297.63 L752.94,298.13 L753.98,298.63 L754.99,299.13 L755.91,299.63 L756.83,300.12 L757.77,300.62 L758.69,301.12 L759.6,301.62 L760.46,302.12 L761.26,302.62 L761.98,303.12 L762.61,303.62 L763.15,304.12 L763.69,304.62 L764.22,305.12 L764.71,305.62 L765.16,306.12 L765.55,306.62 L765.87,307.12 L766.11,307.62 L766.25,308.12 L766.34,308.61 L766.42,309.11 L766.49,309.61 L766.55,310.11 L766.61,310.61 L766.65,311.11 L766.68,311.61 L766.7,312.11 L766.7,312.61 L766.64,313.11 L766.51,313.61 L766.32,314.11 L766.09,314.61 L765.84,315.11 L765.56,315.61 L765.29,316.11 L765.04,316.6 L764.81,317.1 L764.57,317.6 L764.32,318.1 L764.07,318.6 L763.81,319.1 L763.55,319.6 L763.3,320.1 L763.05,320.6 L762.82,321.1 L762.6,321.6 L762.39,322.1 L762.18,322.6 L761.98,323.1 L761.78,323.6 L761.59,324.09 L761.4,324.59 L761.2,325.09 L761,325.59 L760.8,326.09 L760.6,326.59 L760.41,327.09 L760.21,327.59 L760.01,328.09 L759.81,328.59 L759.61,329.09 L759.41,329.59 L759.22,330.09 L759.02,330.59 L758.82,331.09 L758.62,331.59 L758.42,332.08 L758.22,332.58 L758.02,333.08 L757.83,333.58 L757.63,334.08 L757.43,334.58 L757.22,335.08 L757.01,335.58 L756.8,336.08 L756.6,336.58 L756.39,337.08 L756.19,337.58 L756,338.08 L755.81,338.58 L755.63,339.08 L755.45,339.58 L755.27,340.07 L755.08,340.57 L754.91,341.07 L754.75,341.57 L754.61,342.07 L754.49,342.57 L754.4,343.07 L754.33,343.57 L754.27,344.07 L754.2,344.57 L754.15,345.07 L754.1,345.57 L754.06,346.07 L754.02,346.57 L754.01,347.07 L754,347.57 L754,348.06 L754,348.56 L754,349.06 L754,349.56 L754,350.06 L754,350.56 L754,351.06 L754,351.56 L754,352.06 L754,352.56 L754,353.06 L754,353.56 L754,354.06 L754,354.56 L754,355.06 L754,355.56 L754,356.06 L754,356.55 L753.98,357.05 L753.94,357.55 L753.9,358.05 L753.84,358.55 L753.78,359.05 L753.72,359.55 L753.66,360.05 L753.61,360.55 L753.56,361.05 L753.51,361.55 L753.46,362.05 L753.41,362.55 L753.36,363.05 L753.3,363.55 L753.24,364.04 L753.17,364.54 L753.09,365.04 L752.99,365.54 L752.87,366.04 L752.73,366.54 L752.57,367.04 L752.41,367.54 L752.24,368.04 L752.07,368.54 L751.91,369.04 L751.76,369.54 L751.61,370.04 L751.46,370.54 L751.31,371.04 L751.17,371.54 L751.02,372.03 L750.87,372.53 L750.72,373.03 L750.57,373.53 L750.41,374.03 L750.27,374.53 L750.12,375.03 L749.97,375.53 L749.82,376.03 L749.67,376.53 L749.5,377.03 L749.33,377.53 L749.15,378.03 L748.96,378.53 L748.74,379.03 L748.52,379.53 L748.29,380.02 L748.05,380.52 L747.81,381.02 L747.56,381.52 L747.32,382.02 L747.09,382.52 L746.86,383.02 L746.65,383.52 L746.44,384.02 L746.24,384.52 L746.04,385.02 L745.85,385.52 L745.66,386.02 L745.47,386.52 L745.28,387.02 L745.08,387.52 L744.89,388.01 L744.69,388.51 L744.49,389.01 L744.29,389.51 L744.08,390.01 L743.87,390.51 L743.65,391.01 L743.44,391.51 L743.22,392.01 L743.01,392.51 L742.8,393.01 L742.59,393.51 L742.39,394.01 L742.2,394.51 L742.01,395.01 L741.85,395.51 L741.69,396 L741.53,396.5 L741.37,397 L741.2,397.5 L741.02,398 L740.82,398.5 L740.6,399 L740.32,399.5 L740,400 L740,400 L739.68,399.5 L739.4,399 L739.18,398.5 L738.98,398 L738.8,397.5 L738.63,397 L738.47,396.5 L738.31,396 L738.15,395.51 L737.99,395.01 L737.8,394.51 L737.61,394.01 L737.41,393.51 L737.2,393.01 L736.99,392.51 L736.78,392.01 L736.56,391.51 L736.35,391.01 L736.13,390.51 L735.92,390.01 L735.71,389.51 L735.51,389.01 L735.31,388.51 L735.11,388.01 L734.92,387.52 L734.72,387.02 L734.53,386.52 L734.34,386.02 L734.15,385.52 L733.96,385.02 L733.76,384.52 L733.56,384.02 L733.35,383.52 L733.14,383.02 L732.91,382.52 L732.68,382.02 L732.44,381.52 L732.19,381.02 L731.95,380.52 L731.71,380.02 L731.48,379.53 L731.26,379.03 L731.04,378.53 L730.85,378.03 L730.67,377.53 L730.5,377.03 L730.33,376.53 L730.18,376.03 L730.03,375.53 L729.88,375.03 L729.73,374.53 L729.59,374.03 L729.43,373.53 L729.28,373.03 L729.13,372.53 L728.98,372.03 L728.83,371.54 L728.69,371.04 L728.54,370.54 L728.39,370.04 L728.24,369.54 L728.09,369.04 L727.93,368.54 L727.76,368.04 L727.59,367.54 L727.43,367.04 L727.27,366.54 L727.13,366.04 L727.01,365.54 L726.91,365.04 L726.83,364.54 L726.76,364.04 L726.7,363.55 L726.64,363.05 L726.59,362.55 L726.54,362.05 L726.49,361.55 L726.44,361.05 L726.39,360.55 L726.34,360.05 L726.28,359.55 L726.22,359.05 L726.16,358.55 L726.1,358.05 L726.06,357.55 L726.02,357.05 L726,356.55 L726,356.06 L726,355.56 L726,355.06 L726,354.56 L726,354.06 L726,353.56 L726,353.06 L726,352.56 L726,352.06 L726,351.56 L726,351.06 L726,350.56 L726,350.06 L726,349.56 L726,349.06 L726,348.56 L726,348.06 L726,347.57 L725.99,347.07 L725.98,346.57 L725.94,346.07 L725.9,345.57 L725.85,345.07 L725.8,344.57 L725.73,344.07 L725.67,343.57 L725.6,343.07 L725.51,342.57 L725.39,342.07 L725.25,341.57 L725.09,341.07 L724.92,340.57 L724.73,340.07 L724.55,339.58 L724.37,339.08 L724.19,338.58 L724,338.08 L723.81,337.58 L723.61,337.08 L723.4,336.58 L723.2,336.08 L722.99,335.58 L722.78,335.08 L722.57,334.58 L722.37,334.08 L722.17,333.58 L721.98,333.08 L721.78,332.58 L721.58,332.08 L721.38,331.59 L721.18,331.09 L720.98,330.59 L720.78,330.09 L720.59,329.59 L720.39,329.09 L720.19,328.59 L719.99,328.09 L719.79,327.59 L719.59,327.09 L719.4,326.59 L719.2,326.09 L719,325.59 L718.8,325.09 L718.6,324.59 L718.41,324.09 L718.22,323.6 L718.02,323.1 L717.82,322.6 L717.61,322.1 L717.4,321.6 L717.18,321.1 L716.95,320.6 L716.7,320.1 L716.45,319.6 L716.19,319.1 L715.93,318.6 L715.68,318.1 L715.43,317.6 L715.19,317.1 L714.96,316.6 L714.71,316.11 L714.44,315.61 L714.16,315.11 L713.91,314.61 L713.68,314.11 L713.49,313.61 L713.36,313.11 L713.3,312.61 L713.3,312.11 L713.32,311.61 L713.35,311.11 L713.39,310.61 L713.45,310.11 L713.51,309.61 L713.58,309.11 L713.66,308.61 L713.75,308.12 L713.89,307.62 L714.13,307.12 L714.45,306.62 L714.84,306.12 L715.29,305.62 L715.78,305.12 L716.31,304.62 L716.85,304.12 L717.39,303.62 L718.02,303.12 L718.74,302.62 L719.54,302.12 L720.4,301.62 L721.31,301.12 L722.23,300.62 L723.17,300.12 L724.09,299.63 L725.01,299.13 L726.02,298.63 L727.06,298.13 L728.06,297.63 L728.95,297.13 L729.69,296.63 L730.38,296.13 L731.04,295.63 L731.66,295.13 L732.24,294.63 L732.76,294.13 L733.23,293.63 L733.63,293.13 L733.98,292.63 L734.33,292.13 L734.67,291.64 L734.98,291.14 L735.27,290.64 L735.5,290.14 L735.68,289.64 L735.78,289.14 L735.8,288.64 L735.8,288.14 L735.8,287.64 L735.8,287.14 L735.8,286.64 L735.8,286.14 L735.8,285.64 L735.8,285.14 L735.8,284.64 L735.77,284.14 L735.7,283.65 L735.61,283.15 L735.5,282.65 L735.37,282.15 L735.24,281.65 L735.11,281.15 L734.99,280.65 L734.86,280.15 L734.71,279.65 L734.55,279.15 L734.38,278.65 L734.22,278.15 L734.06,277.65 L733.92,277.15 L733.79,276.65 L733.67,276.15 L733.55,275.66 L733.43,275.16 L733.32,274.66 L733.22,274.16 L733.13,273.66 L733.06,273.16 L733,272.66 L732.97,272.16 L732.93,271.66 L732.89,271.16 L732.86,270.66 L732.84,270.16 L732.82,269.66 L732.81,269.16 L732.8,268.66 L732.81,268.16 L732.85,267.67 L732.91,267.17 L732.99,266.67 L733.08,266.17 L733.18,265.67 L733.28,265.17 L733.37,264.67 L733.46,264.17 L733.55,263.67 L733.64,263.17 L733.74,262.67 L733.85,262.17 L733.95,261.67 L734.06,261.17 L734.16,260.67 L734.27,260.18 L734.37,259.68 L734.48,259.18 L734.58,258.68 L734.69,258.18 L734.8,257.68 L734.92,257.18 L735.03,256.68 L735.15,256.18 L735.28,255.68 L735.41,255.18 L735.55,254.68 L735.69,254.18 L735.83,253.68 L735.98,253.18 L736.12,252.68 L736.26,252.19 L736.4,251.69 L736.55,251.19 L736.69,250.69 L736.84,250.19 L736.99,249.69 L737.14,249.19 L737.28,248.69 L737.43,248.19 L737.58,247.69 L737.73,247.19 L737.87,246.69 L738.02,246.19 L738.17,245.69 L738.32,245.19 L738.48,244.69 L738.63,244.19 L738.8,243.7 L738.96,243.2 L739.13,242.7 L739.3,242.2 L739.47,241.7 L739.64,241.2 L739.82,240.7 L740,240.2 Z" fill="#6787ee" stroke="#000" stroke-width="1.4" stroke-linejoin="round"/>
<line x1="740" y1="224.5" x2="740" y2="241.2" stroke="#000" stroke-width="1.6"/>
<line x1="740" y1="399" x2="740" y2="414.5" stroke="#000" stroke-width="1.6"/>
<line x1="714.79" y1="307.6" x2="765.21" y2="307.6" stroke="#dfe6fa" stroke-width="1" stroke-dasharray="1.2 1.2"/>
<line x1="719.23" y1="323.9" x2="760.77" y2="323.9" stroke="#e8ecf4" stroke-width="1.3" stroke-dasharray="3.5 2"/>
<line x1="726.9" y1="354.5" x2="753.1" y2="354.5" stroke="#dfe6fa" stroke-width="1" stroke-dasharray="1.2 1.2"/>
<text x="740" y="214.6" font-size="12.5" text-anchor="middle" fill="#222">ns</text>
<line x1="733.9" y1="220" x2="746.2" y2="220" stroke="#222" stroke-width="1.3"/>
<circle cx="740.04" cy="254.51" r="1.45" fill="#fff"/>
<circle cx="740.04" cy="267.3" r="1.45" fill="#fff"/>
<circle cx="740.04" cy="274.3" r="1.45" fill="#fff"/>
<circle cx="740.04" cy="278.42" r="1.45" fill="#fff"/>
<circle cx="737.6" cy="303.45" r="1.45" fill="#fff"/>
<circle cx="742.6" cy="305.12" r="1.45" fill="#fff"/>
<circle cx="732.48" cy="307.34" r="1.45" fill="#fff"/>
<circle cx="737.6" cy="307.34" r="1.45" fill="#fff"/>
<circle cx="742.6" cy="307.34" r="1.45" fill="#fff"/>
<circle cx="747.61" cy="307.34" r="1.45" fill="#fff"/>
<circle cx="737.6" cy="303.56" r="1.45" fill="#fff"/>
<circle cx="742.6" cy="305.23" r="1.45" fill="#fff"/>
<circle cx="732.48" cy="307.56" r="1.45" fill="#fff"/>
<circle cx="737.6" cy="307.56" r="1.45" fill="#fff"/>
<circle cx="742.6" cy="307.56" r="1.45" fill="#fff"/>
<circle cx="747.61" cy="307.56" r="1.45" fill="#fff"/>
<circle cx="742.6" cy="309.23" r="1.45" fill="#fff"/>
<circle cx="732.48" cy="311.35" r="1.45" fill="#fff"/>
<circle cx="747.61" cy="310.79" r="1.45" fill="#fff"/>
<circle cx="740.04" cy="314.13" r="1.45" fill="#fff"/>
<circle cx="740.04" cy="317.46" r="1.45" fill="#fff"/>
<circle cx="737.6" cy="322.25" r="1.45" fill="#fff"/>
<circle cx="742.6" cy="322.25" r="1.45" fill="#fff"/>
<circle cx="732.48" cy="323.69" r="1.45" fill="#fff"/>
<circle cx="737.6" cy="324.69" r="1.45" fill="#fff"/>
<circle cx="740.04" cy="328.03" r="1.45" fill="#fff"/>
<circle cx="747.61" cy="333.59" r="1.45" fill="#fff"/>
<circle cx="737.6" cy="335.82" r="1.45" fill="#fff"/>
<circle cx="742.6" cy="335.82" r="1.45" fill="#fff"/>
<circle cx="740.04" cy="342.05" r="1.45" fill="#fff"/>
<circle cx="740.04" cy="345.61" r="1.45" fill="#fff"/>
<circle cx="740.04" cy="348.94" r="1.45" fill="#fff"/>
<circle cx="740.04" cy="353.17" r="1.45" fill="#fff"/>
<circle cx="740.04" cy="357.84" r="1.45" fill="#fff"/>
<circle cx="740.04" cy="360.96" r="1.45" fill="#fff"/>
<circle cx="740.04" cy="363.63" r="1.45" fill="#fff"/>
<circle cx="737.6" cy="369.19" r="1.45" fill="#fff"/>
<circle cx="742.6" cy="369.52" r="1.45" fill="#fff"/>
<circle cx="740.04" cy="372.53" r="1.45" fill="#fff"/>
<circle cx="737.6" cy="384.76" r="1.45" fill="#fff"/>
<circle cx="742.6" cy="382.87" r="1.45" fill="#fff"/>
<circle cx="737.5" cy="384.8" r="1.45" fill="#fff"/>
<circle cx="742.8" cy="383.2" r="1.45" fill="#fff"/>
<text x="19" y="530.5" font-size="26" font-weight="bold" text-anchor="start" fill="#000">d</text>
<text x="154.5" y="522.2" font-size="14.5" font-weight="bold" text-anchor="middle" fill="#000">Total</text>
<line x1="59.5" y1="559.8" x2="59.5" y2="751.7" stroke="#000" stroke-width="1.6"/>
<line x1="58.7" y1="750.9" x2="249.5" y2="750.9" stroke="#000" stroke-width="1.6"/>
<line x1="56.5" y1="741.38" x2="59.5" y2="741.38" stroke="#000" stroke-width="1.3"/>
<line x1="56.5" y1="731.86" x2="59.5" y2="731.86" stroke="#000" stroke-width="1.3"/>
<line x1="56.5" y1="722.34" x2="59.5" y2="722.34" stroke="#000" stroke-width="1.3"/>
<line x1="56.5" y1="712.82" x2="59.5" y2="712.82" stroke="#000" stroke-width="1.3"/>
<line x1="56.5" y1="693.78" x2="59.5" y2="693.78" stroke="#000" stroke-width="1.3"/>
<line x1="56.5" y1="684.26" x2="59.5" y2="684.26" stroke="#000" stroke-width="1.3"/>
<line x1="56.5" y1="674.74" x2="59.5" y2="674.74" stroke="#000" stroke-width="1.3"/>
<line x1="56.5" y1="665.22" x2="59.5" y2="665.22" stroke="#000" stroke-width="1.3"/>
<line x1="56.5" y1="646.18" x2="59.5" y2="646.18" stroke="#000" stroke-width="1.3"/>
<line x1="56.5" y1="636.66" x2="59.5" y2="636.66" stroke="#000" stroke-width="1.3"/>
<line x1="56.5" y1="627.14" x2="59.5" y2="627.14" stroke="#000" stroke-width="1.3"/>
<line x1="56.5" y1="617.62" x2="59.5" y2="617.62" stroke="#000" stroke-width="1.3"/>
<line x1="56.5" y1="598.58" x2="59.5" y2="598.58" stroke="#000" stroke-width="1.3"/>
<line x1="56.5" y1="589.06" x2="59.5" y2="589.06" stroke="#000" stroke-width="1.3"/>
<line x1="56.5" y1="579.54" x2="59.5" y2="579.54" stroke="#000" stroke-width="1.3"/>
<line x1="56.5" y1="570.02" x2="59.5" y2="570.02" stroke="#000" stroke-width="1.3"/>
<line x1="55.3" y1="560.5" x2="59.5" y2="560.5" stroke="#000" stroke-width="1.4"/>
<text x="54.2" y="565.6" font-size="14.5" font-weight="bold" text-anchor="end" fill="#000">1.5</text>
<line x1="55.3" y1="608.1" x2="59.5" y2="608.1" stroke="#000" stroke-width="1.4"/>
<text x="54.2" y="613.2" font-size="14.5" font-weight="bold" text-anchor="end" fill="#000">1.0</text>
<line x1="55.3" y1="655.7" x2="59.5" y2="655.7" stroke="#000" stroke-width="1.4"/>
<text x="54.2" y="660.8" font-size="14.5" font-weight="bold" text-anchor="end" fill="#000">0.5</text>
<line x1="55.3" y1="703.3" x2="59.5" y2="703.3" stroke="#000" stroke-width="1.4"/>
<text x="54.2" y="708.4" font-size="14.5" font-weight="bold" text-anchor="end" fill="#000">0.0</text>
<line x1="55.3" y1="750.9" x2="59.5" y2="750.9" stroke="#000" stroke-width="1.4"/>
<text x="54.2" y="756" font-size="14.5" font-weight="bold" text-anchor="end" fill="#000">-0.5</text>
<line x1="113.3" y1="750.9" x2="113.3" y2="754.5" stroke="#000" stroke-width="1.4"/>
<line x1="195" y1="750.9" x2="195" y2="754.5" stroke="#000" stroke-width="1.4"/>
<text x="32.3" y="647" font-size="14" font-weight="bold" text-anchor="middle" fill="#000" transform="rotate(-90 32.3 647)">Summed &#916; skill</text>
<text x="111.6" y="768.8" font-size="14" font-weight="bold" text-anchor="middle" fill="#000">HIIT</text>
<text x="195.1" y="768.8" font-size="14" font-weight="bold" text-anchor="middle" fill="#000">LOW</text>
<line x1="60.5" y1="703.3" x2="249.5" y2="703.3" stroke="#000" stroke-width="1" stroke-dasharray="1.2 1.1"/>
<path d="M113.4,599.5 L113.4,559 L194.6,559 L194.6,563.8" fill="none" stroke="#444" stroke-width="1.1"/>
<text x="154.2" y="554.5" font-size="12.5" text-anchor="middle" fill="#222">ns</text>
<path d="M113.4,604 L113.5,604.5 L113.61,604.99 L113.73,605.49 L113.86,605.99 L114,606.48 L114.14,606.98 L114.28,607.48 L114.45,607.97 L114.64,608.47 L114.88,608.97 L115.24,609.46 L115.75,609.96 L116.37,610.46 L117.04,610.95 L117.71,611.45 L118.34,611.95 L119.02,612.44 L119.72,612.94 L120.43,613.43 L121.14,613.93 L121.84,614.43 L122.5,614.92 L123.18,615.42 L123.92,615.92 L124.71,616.41 L125.48,616.91 L126.2,617.41 L126.83,617.9 L127.31,618.4 L127.62,618.9 L127.7,619.39 L127.66,619.89 L127.56,620.39 L127.43,620.88 L127.26,621.38 L127.06,621.88 L126.86,622.37 L126.65,622.87 L126.45,623.37 L126.24,623.86 L125.97,624.36 L125.66,624.86 L125.34,625.35 L125.02,625.85 L124.73,626.35 L124.5,626.84 L124.35,627.34 L124.3,627.84 L124.42,628.33 L124.73,628.83 L125.19,629.33 L125.76,629.82 L126.39,630.32 L127.05,630.82 L127.7,631.31 L128.29,631.81 L128.82,632.3 L129.36,632.8 L129.92,633.3 L130.48,633.79 L131.04,634.29 L131.6,634.79 L132.14,635.28 L132.67,635.78 L133.18,636.28 L133.67,636.77 L134.17,637.27 L134.66,637.77 L135.14,638.26 L135.61,638.76 L136.05,639.26 L136.46,639.75 L136.83,640.25 L137.16,640.75 L137.51,641.24 L137.85,641.74 L138.2,642.24 L138.52,642.73 L138.83,643.23 L139.09,643.73 L139.31,644.22 L139.48,644.72 L139.58,645.22 L139.6,645.71 L139.55,646.21 L139.43,646.71 L139.25,647.2 L139.03,647.7 L138.77,648.2 L138.49,648.69 L138.16,649.19 L137.59,649.68 L136.79,650.18 L135.86,650.68 L134.87,651.17 L133.93,651.67 L133.11,652.17 L132.46,652.66 L131.8,653.16 L131.13,653.66 L130.51,654.15 L129.99,654.65 L129.6,655.15 L129.41,655.64 L129.43,656.14 L129.57,656.64 L129.79,657.13 L130.04,657.63 L130.3,658.13 L130.53,658.62 L130.68,659.12 L130.77,659.62 L130.86,660.11 L130.94,660.61 L131,661.11 L131.05,661.6 L131.09,662.1 L131.1,662.6 L130.98,663.09 L130.66,663.59 L130.17,664.09 L129.58,664.58 L128.92,665.08 L128.25,665.58 L127.61,666.07 L126.94,666.57 L126.18,667.07 L125.38,667.56 L124.53,668.06 L123.66,668.55 L122.8,669.05 L121.95,669.55 L121.03,670.04 L120.05,670.54 L119.07,671.04 L118.12,671.53 L117.26,672.03 L116.53,672.53 L115.96,673.02 L115.5,673.52 L115.09,674.02 L114.72,674.51 L114.37,675.01 L114.03,675.51 L113.7,676 L113.4,676.5 L113.4,676.5 L113.1,676 L112.77,675.51 L112.43,675.01 L112.08,674.51 L111.71,674.02 L111.3,673.52 L110.84,673.02 L110.27,672.53 L109.54,672.03 L108.68,671.53 L107.73,671.04 L106.75,670.54 L105.77,670.04 L104.85,669.55 L104,669.05 L103.14,668.55 L102.27,668.06 L101.42,667.56 L100.62,667.07 L99.86,666.57 L99.19,666.07 L98.55,665.58 L97.88,665.08 L97.22,664.58 L96.63,664.09 L96.14,663.59 L95.82,663.09 L95.7,662.6 L95.71,662.1 L95.75,661.6 L95.8,661.11 L95.86,660.61 L95.94,660.11 L96.03,659.62 L96.12,659.12 L96.27,658.62 L96.5,658.13 L96.76,657.63 L97.01,657.13 L97.23,656.64 L97.37,656.14 L97.39,655.64 L97.2,655.15 L96.81,654.65 L96.29,654.15 L95.67,653.66 L95,653.16 L94.34,652.66 L93.69,652.17 L92.87,651.67 L91.93,651.17 L90.94,650.68 L90.01,650.18 L89.21,649.68 L88.64,649.19 L88.31,648.69 L88.03,648.2 L87.77,647.7 L87.55,647.2 L87.37,646.71 L87.25,646.21 L87.2,645.71 L87.22,645.22 L87.32,644.72 L87.49,644.22 L87.71,643.73 L87.97,643.23 L88.28,642.73 L88.6,642.24 L88.95,641.74 L89.29,641.24 L89.64,640.75 L89.97,640.25 L90.34,639.75 L90.75,639.26 L91.19,638.76 L91.66,638.26 L92.14,637.77 L92.63,637.27 L93.13,636.77 L93.62,636.28 L94.13,635.78 L94.66,635.28 L95.2,634.79 L95.76,634.29 L96.32,633.79 L96.88,633.3 L97.44,632.8 L97.98,632.3 L98.51,631.81 L99.1,631.31 L99.75,630.82 L100.41,630.32 L101.04,629.82 L101.61,629.33 L102.07,628.83 L102.38,628.33 L102.5,627.84 L102.45,627.34 L102.3,626.84 L102.07,626.35 L101.78,625.85 L101.46,625.35 L101.14,624.86 L100.83,624.36 L100.56,623.86 L100.35,623.37 L100.15,622.87 L99.94,622.37 L99.74,621.88 L99.54,621.38 L99.37,620.88 L99.24,620.39 L99.14,619.89 L99.1,619.39 L99.18,618.9 L99.49,618.4 L99.97,617.9 L100.6,617.41 L101.32,616.91 L102.09,616.41 L102.88,615.92 L103.62,615.42 L104.3,614.92 L104.96,614.43 L105.66,613.93 L106.37,613.43 L107.08,612.94 L107.78,612.44 L108.46,611.95 L109.09,611.45 L109.76,610.95 L110.43,610.46 L111.05,609.96 L111.56,609.46 L111.92,608.97 L112.16,608.47 L112.35,607.97 L112.52,607.48 L112.66,606.98 L112.8,606.48 L112.94,605.99 L113.07,605.49 L113.19,604.99 L113.3,604.5 L113.4,604 Z" fill="#4a4a4a" stroke="#000" stroke-width="1.3" stroke-linejoin="round"/>
<line x1="113.4" y1="603.5" x2="113.4" y2="605" stroke="#000" stroke-width="1.5"/>
<line x1="113.4" y1="675.5" x2="113.4" y2="678.8" stroke="#000" stroke-width="1.5"/>
<line x1="98.83" y1="632.35" x2="127.97" y2="632.35" stroke="#ddd" stroke-width="1" stroke-dasharray="1.2 1.2"/>
<line x1="97.36" y1="654.3" x2="129.44" y2="654.3" stroke="#ddd" stroke-width="1" stroke-dasharray="1.2 1.2"/>
<line x1="88.2" y1="644.8" x2="138.6" y2="644.8" stroke="#000" stroke-width="2" stroke-dasharray="4 2"/>
<circle cx="109.6" cy="619.19" r="2" fill="#fff"/>
<circle cx="117.25" cy="618.96" r="2" fill="#fff"/>
<circle cx="113.31" cy="623.12" r="2" fill="#fff"/>
<circle cx="113.31" cy="629.87" r="2" fill="#fff"/>
<circle cx="124.79" cy="634.6" r="2" fill="#fff"/>
<circle cx="109.6" cy="637.52" r="2" fill="#fff"/>
<circle cx="117.25" cy="637.97" r="2" fill="#fff"/>
<circle cx="109.6" cy="642.25" r="2" fill="#fff"/>
<circle cx="102.06" cy="644.5" r="2" fill="#fff"/>
<circle cx="109.6" cy="648.44" r="2" fill="#fff"/>
<circle cx="117.25" cy="647.31" r="2" fill="#fff"/>
<circle cx="124.79" cy="648.77" r="2" fill="#fff"/>
<circle cx="102.06" cy="650.69" r="2" fill="#fff"/>
<circle cx="102.06" cy="657.77" r="2" fill="#fff"/>
<circle cx="102.06" cy="663.29" r="2" fill="#fff"/>
<circle cx="117.25" cy="663.29" r="2" fill="#fff"/>
<circle cx="124.79" cy="661.15" r="2" fill="#fff"/>
<path d="M194.9,578.9 L195.16,579.4 L195.42,579.9 L195.65,580.4 L195.87,580.89 L196.07,581.39 L196.25,581.89 L196.43,582.39 L196.6,582.89 L196.79,583.39 L196.98,583.88 L197.2,584.38 L197.44,584.88 L197.73,585.38 L198.05,585.88 L198.39,586.38 L198.74,586.87 L199.08,587.37 L199.4,587.87 L199.68,588.37 L199.93,588.87 L200.16,589.37 L200.39,589.86 L200.61,590.36 L200.81,590.86 L201,591.36 L201.17,591.86 L201.31,592.36 L201.44,592.86 L201.56,593.35 L201.67,593.85 L201.79,594.35 L201.89,594.85 L201.99,595.35 L202.07,595.85 L202.13,596.34 L202.18,596.84 L202.2,597.34 L202.2,597.84 L202.18,598.34 L202.16,598.84 L202.12,599.33 L202.08,599.83 L202.03,600.33 L201.98,600.83 L201.92,601.33 L201.86,601.83 L201.81,602.33 L201.74,602.82 L201.66,603.32 L201.55,603.82 L201.44,604.32 L201.33,604.82 L201.22,605.32 L201.13,605.81 L201.06,606.31 L201.01,606.81 L201,607.31 L201.02,607.81 L201.06,608.31 L201.12,608.8 L201.2,609.3 L201.3,609.8 L201.4,610.3 L201.51,610.8 L201.62,611.3 L201.73,611.79 L201.85,612.29 L201.99,612.79 L202.16,613.29 L202.35,613.79 L202.55,614.29 L202.75,614.79 L202.94,615.28 L203.11,615.78 L203.26,616.28 L203.37,616.78 L203.44,617.28 L203.5,617.78 L203.56,618.27 L203.62,618.77 L203.67,619.27 L203.71,619.77 L203.75,620.27 L203.78,620.77 L203.79,621.26 L203.8,621.76 L203.78,622.26 L203.73,622.76 L203.66,623.26 L203.55,623.76 L203.44,624.25 L203.31,624.75 L203.17,625.25 L203.04,625.75 L202.91,626.25 L202.79,626.75 L202.66,627.25 L202.51,627.74 L202.35,628.24 L202.18,628.74 L202.02,629.24 L201.87,629.74 L201.75,630.24 L201.66,630.73 L201.61,631.23 L201.61,631.73 L201.67,632.23 L201.78,632.73 L201.94,633.23 L202.13,633.72 L202.34,634.22 L202.56,634.72 L202.83,635.22 L203.19,635.72 L203.64,636.22 L204.15,636.72 L204.71,637.21 L205.3,637.71 L205.9,638.21 L206.49,638.71 L207.09,639.21 L207.74,639.71 L208.43,640.2 L209.15,640.7 L209.88,641.2 L210.63,641.7 L211.37,642.2 L212.11,642.7 L212.83,643.19 L213.58,643.69 L214.34,644.19 L215.09,644.69 L215.82,645.19 L216.5,645.69 L217.13,646.18 L217.78,646.68 L218.42,647.18 L219.02,647.68 L219.54,648.18 L219.93,648.68 L220.17,649.18 L220.36,649.67 L220.53,650.17 L220.69,650.67 L220.83,651.17 L220.95,651.67 L221.05,652.17 L221.13,652.66 L221.18,653.16 L221.2,653.66 L221.19,654.16 L221.13,654.66 L221.04,655.16 L220.91,655.65 L220.76,656.15 L220.58,656.65 L220.39,657.15 L220.19,657.65 L219.98,658.15 L219.77,658.65 L219.57,659.14 L219.39,659.64 L219.22,660.14 L219.07,660.64 L218.92,661.14 L218.78,661.64 L218.63,662.13 L218.49,662.63 L218.35,663.13 L218.21,663.63 L218.06,664.13 L217.91,664.63 L217.75,665.12 L217.59,665.62 L217.42,666.12 L217.23,666.62 L217.04,667.12 L216.84,667.62 L216.63,668.11 L216.41,668.61 L216.18,669.11 L215.94,669.61 L215.68,670.11 L215.41,670.61 L215.12,671.11 L214.82,671.6 L214.5,672.1 L214.16,672.6 L213.74,673.1 L213.26,673.6 L212.74,674.1 L212.19,674.59 L211.63,675.09 L211.09,675.59 L210.59,676.09 L210.13,676.59 L209.71,677.09 L209.29,677.58 L208.89,678.08 L208.5,678.58 L208.11,679.08 L207.73,679.58 L207.34,680.08 L206.94,680.57 L206.53,681.07 L206.12,681.57 L205.7,682.07 L205.28,682.57 L204.87,683.07 L204.48,683.57 L204.11,684.06 L203.76,684.56 L203.43,685.06 L203.12,685.56 L202.82,686.06 L202.53,686.56 L202.24,687.05 L201.97,687.55 L201.7,688.05 L201.43,688.55 L201.16,689.05 L200.9,689.55 L200.64,690.04 L200.39,690.54 L200.14,691.04 L199.9,691.54 L199.66,692.04 L199.43,692.54 L199.21,693.04 L198.99,693.53 L198.78,694.03 L198.58,694.53 L198.37,695.03 L198.17,695.53 L197.97,696.03 L197.77,696.52 L197.57,697.02 L197.37,697.52 L197.16,698.02 L196.96,698.52 L196.76,699.02 L196.56,699.51 L196.36,700.01 L196.17,700.51 L195.98,701.01 L195.8,701.51 L195.61,702.01 L195.43,702.5 L195.25,703 L195.07,703.5 L194.9,704 L194.9,704 L194.73,703.5 L194.55,703 L194.37,702.5 L194.19,702.01 L194,701.51 L193.82,701.01 L193.63,700.51 L193.44,700.01 L193.24,699.51 L193.04,699.02 L192.84,698.52 L192.64,698.02 L192.43,697.52 L192.23,697.02 L192.03,696.52 L191.83,696.03 L191.63,695.53 L191.43,695.03 L191.22,694.53 L191.02,694.03 L190.81,693.53 L190.59,693.04 L190.37,692.54 L190.14,692.04 L189.9,691.54 L189.66,691.04 L189.41,690.54 L189.16,690.04 L188.9,689.55 L188.64,689.05 L188.37,688.55 L188.1,688.05 L187.83,687.55 L187.56,687.05 L187.27,686.56 L186.98,686.06 L186.68,685.56 L186.37,685.06 L186.04,684.56 L185.69,684.06 L185.32,683.57 L184.93,683.07 L184.52,682.57 L184.1,682.07 L183.68,681.57 L183.27,681.07 L182.86,680.57 L182.46,680.08 L182.07,679.58 L181.69,679.08 L181.3,678.58 L180.91,678.08 L180.51,677.58 L180.09,677.09 L179.67,676.59 L179.21,676.09 L178.71,675.59 L178.17,675.09 L177.61,674.59 L177.06,674.1 L176.54,673.6 L176.06,673.1 L175.64,672.6 L175.3,672.1 L174.98,671.6 L174.68,671.11 L174.39,670.61 L174.12,670.11 L173.86,669.61 L173.62,669.11 L173.39,668.61 L173.17,668.11 L172.96,667.62 L172.76,667.12 L172.57,666.62 L172.38,666.12 L172.21,665.62 L172.05,665.12 L171.89,664.63 L171.74,664.13 L171.59,663.63 L171.45,663.13 L171.31,662.63 L171.17,662.13 L171.02,661.64 L170.88,661.14 L170.73,660.64 L170.58,660.14 L170.41,659.64 L170.23,659.14 L170.03,658.65 L169.82,658.15 L169.61,657.65 L169.41,657.15 L169.22,656.65 L169.04,656.15 L168.89,655.65 L168.76,655.16 L168.67,654.66 L168.61,654.16 L168.6,653.66 L168.62,653.16 L168.67,652.66 L168.75,652.17 L168.85,651.67 L168.97,651.17 L169.11,650.67 L169.27,650.17 L169.44,649.67 L169.63,649.18 L169.87,648.68 L170.26,648.18 L170.78,647.68 L171.38,647.18 L172.02,646.68 L172.67,646.18 L173.3,645.69 L173.98,645.19 L174.71,644.69 L175.46,644.19 L176.22,643.69 L176.97,643.19 L177.69,642.7 L178.43,642.2 L179.17,641.7 L179.92,641.2 L180.65,640.7 L181.37,640.2 L182.06,639.71 L182.71,639.21 L183.31,638.71 L183.9,638.21 L184.5,637.71 L185.09,637.21 L185.65,636.72 L186.16,636.22 L186.61,635.72 L186.97,635.22 L187.24,634.72 L187.46,634.22 L187.67,633.72 L187.86,633.23 L188.02,632.73 L188.13,632.23 L188.19,631.73 L188.19,631.23 L188.14,630.73 L188.05,630.24 L187.93,629.74 L187.78,629.24 L187.62,628.74 L187.45,628.24 L187.29,627.74 L187.14,627.25 L187.01,626.75 L186.89,626.25 L186.76,625.75 L186.63,625.25 L186.49,624.75 L186.36,624.25 L186.25,623.76 L186.14,623.26 L186.07,622.76 L186.02,622.26 L186,621.76 L186.01,621.26 L186.02,620.77 L186.05,620.27 L186.09,619.77 L186.13,619.27 L186.18,618.77 L186.24,618.27 L186.3,617.78 L186.36,617.28 L186.43,616.78 L186.54,616.28 L186.69,615.78 L186.86,615.28 L187.05,614.79 L187.25,614.29 L187.45,613.79 L187.64,613.29 L187.81,612.79 L187.95,612.29 L188.07,611.79 L188.18,611.3 L188.29,610.8 L188.4,610.3 L188.5,609.8 L188.6,609.3 L188.68,608.8 L188.74,608.31 L188.78,607.81 L188.8,607.31 L188.79,606.81 L188.74,606.31 L188.67,605.81 L188.58,605.32 L188.47,604.82 L188.36,604.32 L188.25,603.82 L188.14,603.32 L188.06,602.82 L187.99,602.33 L187.94,601.83 L187.88,601.33 L187.82,600.83 L187.77,600.33 L187.72,599.83 L187.68,599.33 L187.64,598.84 L187.62,598.34 L187.6,597.84 L187.6,597.34 L187.62,596.84 L187.67,596.34 L187.73,595.85 L187.81,595.35 L187.91,594.85 L188.01,594.35 L188.13,593.85 L188.24,593.35 L188.36,592.86 L188.49,592.36 L188.63,591.86 L188.8,591.36 L188.99,590.86 L189.19,590.36 L189.41,589.86 L189.64,589.37 L189.87,588.87 L190.12,588.37 L190.4,587.87 L190.72,587.37 L191.06,586.87 L191.41,586.38 L191.75,585.88 L192.07,585.38 L192.36,584.88 L192.6,584.38 L192.82,583.88 L193.01,583.39 L193.2,582.89 L193.37,582.39 L193.55,581.89 L193.73,581.39 L193.93,580.89 L194.15,580.4 L194.38,579.9 L194.64,579.4 L194.9,578.9 Z" fill="#9a9a9a" stroke="#000" stroke-width="1.3" stroke-linejoin="round"/>
<line x1="194.9" y1="568.1" x2="194.9" y2="579.9" stroke="#000" stroke-width="1.5"/>
<line x1="194.9" y1="703" x2="194.9" y2="717.7" stroke="#000" stroke-width="1.5"/>
<line x1="188.1" y1="634.8" x2="201.7" y2="634.8" stroke="#eee" stroke-width="1" stroke-dasharray="1.2 1.2"/>
<line x1="175.18" y1="670.4" x2="214.62" y2="670.4" stroke="#eee" stroke-width="1" stroke-dasharray="1.2 1.2"/>
<line x1="169.5" y1="653.9" x2="220.3" y2="653.9" stroke="#000" stroke-width="2" stroke-dasharray="4 2"/>
<circle cx="194.68" cy="595.3" r="2" fill="#fff"/>
<circle cx="194.68" cy="603.4" r="2" fill="#fff"/>
<circle cx="190.95" cy="622.02" r="2" fill="#fff"/>
<circle cx="198.4" cy="623.16" r="2" fill="#fff"/>
<circle cx="183.34" cy="648.26" r="2" fill="#fff"/>
<circle cx="190.95" cy="646.96" r="2" fill="#fff"/>
<circle cx="198.4" cy="645.83" r="2" fill="#fff"/>
<circle cx="206.01" cy="648.26" r="2" fill="#fff"/>
<circle cx="190.95" cy="653.93" r="2" fill="#fff"/>
<circle cx="190.95" cy="659.11" r="2" fill="#fff"/>
<circle cx="198.4" cy="657.17" r="2" fill="#fff"/>
<circle cx="194.68" cy="663.16" r="2" fill="#fff"/>
<circle cx="183.34" cy="668.5" r="2" fill="#fff"/>
<circle cx="190.95" cy="672.06" r="2" fill="#fff"/>
<circle cx="198.4" cy="675.79" r="2" fill="#fff"/>
<circle cx="206.01" cy="672.06" r="2" fill="#fff"/>
<circle cx="194.68" cy="689.88" r="2" fill="#fff"/>
<text x="293" y="531" font-size="26" font-weight="bold" text-anchor="start" fill="#000">e</text>
<text x="425.2" y="522.5" font-size="14.5" font-weight="bold" text-anchor="middle" fill="#000">Micro-offline</text>
<line x1="329.4" y1="556.88" x2="329.4" y2="750.58" stroke="#000" stroke-width="1.6"/>
<line x1="328.6" y1="749.78" x2="521.5" y2="749.78" stroke="#000" stroke-width="1.6"/>
<line x1="326.4" y1="576.8" x2="329.4" y2="576.8" stroke="#000" stroke-width="1.3"/>
<line x1="326.4" y1="615.24" x2="329.4" y2="615.24" stroke="#000" stroke-width="1.3"/>
<line x1="326.4" y1="653.68" x2="329.4" y2="653.68" stroke="#000" stroke-width="1.3"/>
<line x1="326.4" y1="692.12" x2="329.4" y2="692.12" stroke="#000" stroke-width="1.3"/>
<line x1="326.4" y1="730.56" x2="329.4" y2="730.56" stroke="#000" stroke-width="1.3"/>
<line x1="325.2" y1="557.58" x2="329.4" y2="557.58" stroke="#000" stroke-width="1.4"/>
<text x="324.4" y="562.68" font-size="14.5" font-weight="bold" text-anchor="end" fill="#000">6</text>
<line x1="325.2" y1="596.02" x2="329.4" y2="596.02" stroke="#000" stroke-width="1.4"/>
<text x="324.4" y="601.12" font-size="14.5" font-weight="bold" text-anchor="end" fill="#000">4</text>
<line x1="325.2" y1="634.46" x2="329.4" y2="634.46" stroke="#000" stroke-width="1.4"/>
<text x="324.4" y="639.56" font-size="14.5" font-weight="bold" text-anchor="end" fill="#000">2</text>
<line x1="325.2" y1="672.9" x2="329.4" y2="672.9" stroke="#000" stroke-width="1.4"/>
<text x="324.4" y="678" font-size="14.5" font-weight="bold" text-anchor="end" fill="#000">0</text>
<line x1="325.2" y1="711.34" x2="329.4" y2="711.34" stroke="#000" stroke-width="1.4"/>
<text x="324.4" y="716.44" font-size="14.5" font-weight="bold" text-anchor="end" fill="#000">-2</text>
<line x1="325.2" y1="749.78" x2="329.4" y2="749.78" stroke="#000" stroke-width="1.4"/>
<text x="324.4" y="754.88" font-size="14.5" font-weight="bold" text-anchor="end" fill="#000">-4</text>
<line x1="383.8" y1="749.78" x2="383.8" y2="753.38" stroke="#000" stroke-width="1.4"/>
<line x1="465.8" y1="749.78" x2="465.8" y2="753.38" stroke="#000" stroke-width="1.4"/>
<text x="303.2" y="645.3" font-size="14" font-weight="bold" text-anchor="middle" fill="#000" transform="rotate(-90 303.2 645.3)">Summed &#916; skill</text>
<text x="381.5" y="768.6" font-size="14" font-weight="bold" text-anchor="middle" fill="#000">HIIT</text>
<text x="466" y="768.6" font-size="14" font-weight="bold" text-anchor="middle" fill="#000">LOW</text>
<line x1="330.4" y1="672.9" x2="521.5" y2="672.9" stroke="#000" stroke-width="1" stroke-dasharray="1.2 1.1"/>
<path d="M383.4,582.5 L383.4,576.5 L466.3,576.5 L466.3,582.5" fill="none" stroke="#444" stroke-width="1.1"/>
<text x="425" y="571.7" font-size="12.5" text-anchor="middle" fill="#222">ns</text>
<path d="M383.6,597.1 L384.05,597.6 L384.49,598.1 L384.93,598.6 L385.36,599.1 L385.79,599.59 L386.2,600.09 L386.61,600.59 L387.01,601.09 L387.41,601.59 L387.8,602.09 L388.18,602.59 L388.56,603.09 L388.93,603.59 L389.3,604.08 L389.66,604.58 L390.01,605.08 L390.35,605.58 L390.69,606.08 L391.02,606.58 L391.36,607.08 L391.69,607.58 L392.02,608.08 L392.34,608.57 L392.65,609.07 L392.94,609.57 L393.21,610.07 L393.45,610.57 L393.67,611.07 L393.89,611.57 L394.12,612.07 L394.34,612.56 L394.55,613.06 L394.74,613.56 L394.91,614.06 L395.04,614.56 L395.14,615.06 L395.19,615.56 L395.2,616.06 L395.2,616.56 L395.2,617.05 L395.2,617.55 L395.2,618.05 L395.2,618.55 L395.2,619.05 L395.2,619.55 L395.2,620.05 L395.2,620.55 L395.18,621.05 L395.12,621.54 L395.03,622.04 L394.92,622.54 L394.8,623.04 L394.68,623.54 L394.57,624.04 L394.48,624.54 L394.42,625.04 L394.4,625.54 L394.53,626.03 L394.85,626.53 L395.33,627.03 L395.94,627.53 L396.64,628.03 L397.4,628.53 L398.17,629.03 L398.93,629.53 L399.64,630.02 L400.28,630.52 L400.95,631.02 L401.66,631.52 L402.39,632.02 L403.13,632.52 L403.85,633.02 L404.55,633.52 L405.21,634.02 L405.8,634.51 L406.33,635.01 L406.78,635.51 L407.22,636.01 L407.66,636.51 L408.08,637.01 L408.47,637.51 L408.83,638.01 L409.15,638.51 L409.42,639 L409.63,639.5 L409.78,640 L409.88,640.5 L409.97,641 L410.05,641.5 L410.12,642 L410.17,642.5 L410.2,643 L410.19,643.49 L410.11,643.99 L409.95,644.49 L409.73,644.99 L409.47,645.49 L409.19,645.99 L408.9,646.49 L408.62,646.99 L408.37,647.49 L408.17,647.98 L408.02,648.48 L407.87,648.98 L407.72,649.48 L407.58,649.98 L407.43,650.48 L407.3,650.98 L407.19,651.48 L407.08,651.98 L407,652.47 L406.94,652.97 L406.91,653.47 L406.9,653.97 L406.91,654.47 L406.93,654.97 L406.96,655.47 L406.99,655.97 L407.03,656.46 L407.07,656.96 L407.12,657.46 L407.16,657.96 L407.21,658.46 L407.25,658.96 L407.3,659.46 L407.34,659.96 L407.37,660.46 L407.41,660.95 L407.45,661.45 L407.49,661.95 L407.53,662.45 L407.57,662.95 L407.62,663.45 L407.67,663.95 L407.73,664.45 L407.79,664.95 L407.88,665.44 L408,665.94 L408.15,666.44 L408.3,666.94 L408.44,667.44 L408.54,667.94 L408.6,668.44 L408.6,668.94 L408.6,669.44 L408.59,669.93 L408.58,670.43 L408.57,670.93 L408.55,671.43 L408.53,671.93 L408.51,672.43 L408.48,672.93 L408.45,673.43 L408.42,673.92 L408.39,674.42 L408.35,674.92 L408.31,675.42 L408.23,675.92 L408.05,676.42 L407.79,676.92 L407.45,677.42 L407.06,677.92 L406.63,678.41 L406.16,678.91 L405.68,679.41 L405.19,679.91 L404.59,680.41 L403.87,680.91 L403.06,681.41 L402.18,681.91 L401.27,682.41 L400.37,682.9 L399.5,683.4 L398.69,683.9 L397.96,684.4 L397.24,684.9 L396.51,685.4 L395.8,685.9 L395.12,686.4 L394.46,686.9 L393.85,687.39 L393.3,687.89 L392.81,688.39 L392.35,688.89 L391.9,689.39 L391.46,689.89 L391.04,690.39 L390.67,690.89 L390.34,691.39 L390.07,691.88 L389.88,692.38 L389.76,692.88 L389.67,693.38 L389.59,693.88 L389.52,694.38 L389.46,694.88 L389.42,695.38 L389.4,695.88 L389.42,696.37 L389.52,696.87 L389.71,697.37 L389.96,697.87 L390.26,698.37 L390.58,698.87 L390.9,699.37 L391.21,699.87 L391.48,700.36 L391.75,700.86 L392.06,701.36 L392.39,701.86 L392.72,702.36 L393.03,702.86 L393.3,703.36 L393.52,703.86 L393.66,704.36 L393.7,704.85 L393.7,705.35 L393.7,705.85 L393.7,706.35 L393.7,706.85 L393.7,707.35 L393.7,707.85 L393.7,708.35 L393.7,708.85 L393.69,709.34 L393.59,709.84 L393.41,710.34 L393.17,710.84 L392.87,711.34 L392.55,711.84 L392.2,712.34 L391.86,712.84 L391.54,713.34 L391.22,713.83 L390.86,714.33 L390.47,714.83 L390.06,715.33 L389.64,715.83 L389.22,716.33 L388.81,716.83 L388.41,717.33 L388.04,717.82 L387.71,718.32 L387.41,718.82 L387.13,719.32 L386.86,719.82 L386.6,720.32 L386.35,720.82 L386.12,721.32 L385.9,721.82 L385.69,722.31 L385.49,722.81 L385.32,723.31 L385.16,723.81 L385.01,724.31 L384.87,724.81 L384.73,725.31 L384.59,725.81 L384.45,726.31 L384.29,726.8 L384.13,727.3 L383.96,727.8 L383.78,728.3 L383.6,728.8 L383.6,728.8 L383.42,728.3 L383.24,727.8 L383.07,727.3 L382.91,726.8 L382.75,726.31 L382.61,725.81 L382.47,725.31 L382.33,724.81 L382.19,724.31 L382.04,723.81 L381.88,723.31 L381.71,722.81 L381.51,722.31 L381.3,721.82 L381.08,721.32 L380.85,720.82 L380.6,720.32 L380.34,719.82 L380.07,719.32 L379.79,718.82 L379.49,718.32 L379.16,717.82 L378.79,717.33 L378.39,716.83 L377.98,716.33 L377.56,715.83 L377.14,715.33 L376.73,714.83 L376.34,714.33 L375.98,713.83 L375.66,713.34 L375.34,712.84 L375,712.34 L374.65,711.84 L374.33,711.34 L374.03,710.84 L373.79,710.34 L373.61,709.84 L373.51,709.34 L373.5,708.85 L373.5,708.35 L373.5,707.85 L373.5,707.35 L373.5,706.85 L373.5,706.35 L373.5,705.85 L373.5,705.35 L373.5,704.85 L373.54,704.36 L373.68,703.86 L373.9,703.36 L374.17,702.86 L374.48,702.36 L374.81,701.86 L375.14,701.36 L375.45,700.86 L375.72,700.36 L375.99,699.87 L376.3,699.37 L376.62,698.87 L376.94,698.37 L377.24,697.87 L377.49,697.37 L377.68,696.87 L377.78,696.37 L377.8,695.88 L377.78,695.38 L377.74,694.88 L377.68,694.38 L377.61,693.88 L377.53,693.38 L377.44,692.88 L377.32,692.38 L377.13,691.88 L376.86,691.39 L376.53,690.89 L376.16,690.39 L375.74,689.89 L375.3,689.39 L374.85,688.89 L374.39,688.39 L373.9,687.89 L373.35,687.39 L372.74,686.9 L372.08,686.4 L371.4,685.9 L370.69,685.4 L369.96,684.9 L369.24,684.4 L368.51,683.9 L367.7,683.4 L366.83,682.9 L365.93,682.41 L365.02,681.91 L364.14,681.41 L363.33,680.91 L362.61,680.41 L362.01,679.91 L361.52,679.41 L361.04,678.91 L360.57,678.41 L360.14,677.92 L359.75,677.42 L359.41,676.92 L359.15,676.42 L358.97,675.92 L358.89,675.42 L358.85,674.92 L358.81,674.42 L358.78,673.92 L358.75,673.43 L358.72,672.93 L358.69,672.43 L358.67,671.93 L358.65,671.43 L358.63,670.93 L358.62,670.43 L358.61,669.93 L358.6,669.44 L358.6,668.94 L358.6,668.44 L358.66,667.94 L358.76,667.44 L358.9,666.94 L359.05,666.44 L359.2,665.94 L359.32,665.44 L359.41,664.95 L359.47,664.45 L359.53,663.95 L359.58,663.45 L359.63,662.95 L359.67,662.45 L359.71,661.95 L359.75,661.45 L359.79,660.95 L359.83,660.46 L359.86,659.96 L359.9,659.46 L359.95,658.96 L359.99,658.46 L360.04,657.96 L360.08,657.46 L360.13,656.96 L360.17,656.46 L360.21,655.97 L360.24,655.47 L360.27,654.97 L360.29,654.47 L360.3,653.97 L360.29,653.47 L360.26,652.97 L360.2,652.47 L360.12,651.98 L360.01,651.48 L359.9,650.98 L359.77,650.48 L359.62,649.98 L359.48,649.48 L359.33,648.98 L359.18,648.48 L359.03,647.98 L358.83,647.49 L358.58,646.99 L358.3,646.49 L358.01,645.99 L357.73,645.49 L357.47,644.99 L357.25,644.49 L357.09,643.99 L357.01,643.49 L357,643 L357.03,642.5 L357.08,642 L357.15,641.5 L357.23,641 L357.32,640.5 L357.42,640 L357.57,639.5 L357.78,639 L358.05,638.51 L358.37,638.01 L358.73,637.51 L359.12,637.01 L359.54,636.51 L359.98,636.01 L360.42,635.51 L360.87,635.01 L361.4,634.51 L361.99,634.02 L362.65,633.52 L363.35,633.02 L364.07,632.52 L364.81,632.02 L365.54,631.52 L366.25,631.02 L366.92,630.52 L367.56,630.02 L368.27,629.53 L369.03,629.03 L369.8,628.53 L370.56,628.03 L371.26,627.53 L371.87,627.03 L372.35,626.53 L372.67,626.03 L372.8,625.54 L372.78,625.04 L372.72,624.54 L372.63,624.04 L372.52,623.54 L372.4,623.04 L372.28,622.54 L372.17,622.04 L372.08,621.54 L372.02,621.05 L372,620.55 L372,620.05 L372,619.55 L372,619.05 L372,618.55 L372,618.05 L372,617.55 L372,617.05 L372,616.56 L372,616.06 L372.01,615.56 L372.06,615.06 L372.16,614.56 L372.29,614.06 L372.46,613.56 L372.65,613.06 L372.86,612.56 L373.08,612.07 L373.31,611.57 L373.53,611.07 L373.75,610.57 L373.99,610.07 L374.26,609.57 L374.55,609.07 L374.86,608.57 L375.18,608.08 L375.51,607.58 L375.84,607.08 L376.18,606.58 L376.51,606.08 L376.85,605.58 L377.19,605.08 L377.54,604.58 L377.9,604.08 L378.27,603.59 L378.64,603.09 L379.02,602.59 L379.4,602.09 L379.79,601.59 L380.19,601.09 L380.59,600.59 L381,600.09 L381.41,599.59 L381.84,599.1 L382.27,598.6 L382.71,598.1 L383.15,597.6 L383.6,597.1 Z" fill="#fb2c3c" stroke="#000" stroke-width="1.4" stroke-linejoin="round"/>
<line x1="383.6" y1="587" x2="383.6" y2="598.1" stroke="#000" stroke-width="1.6"/>
<line x1="383.6" y1="727.8" x2="383.6" y2="740.9" stroke="#000" stroke-width="1.6"/>
<line x1="358.74" y1="638.9" x2="408.46" y2="638.9" stroke="#f8c8c8" stroke-width="1" stroke-dasharray="1.2 1.2"/>
<line x1="361.46" y1="678.4" x2="405.74" y2="678.4" stroke="#f8c8c8" stroke-width="1" stroke-dasharray="1.2 1.2"/>
<line x1="360.58" y1="662.3" x2="406.62" y2="662.3" stroke="#e8d8d8" stroke-width="1.3" stroke-dasharray="3.5 2"/>
<circle cx="380.61" cy="616.14" r="1.6" fill="#fff"/>
<circle cx="386.46" cy="616.65" r="1.6" fill="#fff"/>
<circle cx="374.42" cy="636.79" r="1.6" fill="#fff"/>
<circle cx="380.61" cy="639.37" r="1.6" fill="#fff"/>
<circle cx="386.46" cy="638.17" r="1.6" fill="#fff"/>
<circle cx="380.61" cy="645.39" r="1.6" fill="#fff"/>
<circle cx="386.46" cy="644.7" r="1.6" fill="#fff"/>
<circle cx="383.54" cy="654.86" r="1.6" fill="#fff"/>
<circle cx="374.42" cy="662.26" r="1.6" fill="#fff"/>
<circle cx="380.61" cy="663.12" r="1.6" fill="#fff"/>
<circle cx="386.46" cy="663.46" r="1.6" fill="#fff"/>
<circle cx="374.42" cy="678.61" r="1.6" fill="#fff"/>
<circle cx="380.61" cy="677.57" r="1.6" fill="#fff"/>
<circle cx="386.46" cy="678.95" r="1.6" fill="#fff"/>
<circle cx="392.83" cy="678.43" r="1.6" fill="#fff"/>
<circle cx="383.54" cy="705.28" r="1.6" fill="#fff"/>
<circle cx="383.54" cy="711.65" r="1.6" fill="#fff"/>
<path d="M466.1,594.3 L466.56,594.8 L467.01,595.3 L467.46,595.8 L467.92,596.3 L468.37,596.8 L468.82,597.29 L469.28,597.79 L469.77,598.29 L470.28,598.79 L470.8,599.29 L471.31,599.79 L471.78,600.29 L472.19,600.79 L472.53,601.29 L472.79,601.79 L473.02,602.29 L473.24,602.79 L473.45,603.28 L473.64,603.78 L473.79,604.28 L473.91,604.78 L473.98,605.28 L474,605.78 L473.96,606.28 L473.86,606.78 L473.73,607.28 L473.55,607.78 L473.35,608.28 L473.13,608.77 L472.9,609.27 L472.67,609.77 L472.37,610.27 L471.98,610.77 L471.54,611.27 L471.07,611.77 L470.6,612.27 L470.17,612.77 L469.8,613.27 L469.51,613.77 L469.3,614.27 L469.08,614.76 L468.88,615.26 L468.7,615.76 L468.54,616.26 L468.41,616.76 L468.33,617.26 L468.3,617.76 L468.32,618.26 L468.38,618.76 L468.47,619.26 L468.58,619.76 L468.71,620.25 L468.84,620.75 L468.96,621.25 L469.07,621.75 L469.16,622.25 L469.25,622.75 L469.33,623.25 L469.42,623.75 L469.5,624.25 L469.58,624.75 L469.66,625.25 L469.74,625.75 L469.83,626.24 L469.91,626.74 L469.98,627.24 L470.05,627.74 L470.12,628.24 L470.18,628.74 L470.25,629.24 L470.32,629.74 L470.4,630.24 L470.5,630.74 L470.61,631.24 L470.74,631.73 L470.95,632.23 L471.24,632.73 L471.59,633.23 L472,633.73 L472.44,634.23 L472.91,634.73 L473.37,635.23 L473.83,635.73 L474.26,636.23 L474.67,636.73 L475.12,637.23 L475.61,637.72 L476.1,638.22 L476.6,638.72 L477.07,639.22 L477.5,639.72 L477.87,640.22 L478.17,640.72 L478.38,641.22 L478.51,641.72 L478.64,642.22 L478.76,642.72 L478.86,643.21 L478.96,643.71 L479.04,644.21 L479.11,644.71 L479.16,645.21 L479.19,645.71 L479.2,646.21 L479.18,646.71 L479.13,647.21 L479.06,647.71 L478.98,648.21 L478.91,648.71 L478.85,649.2 L478.81,649.7 L478.83,650.2 L479.09,650.7 L479.59,651.2 L480.25,651.7 L481,652.2 L481.77,652.7 L482.5,653.2 L483.24,653.7 L484.08,654.2 L484.99,654.69 L485.92,655.19 L486.85,655.69 L487.73,656.19 L488.51,656.69 L489.18,657.19 L489.73,657.69 L490.27,658.19 L490.79,658.69 L491.27,659.19 L491.7,659.69 L492.07,660.19 L492.37,660.68 L492.57,661.18 L492.7,661.68 L492.81,662.18 L492.9,662.68 L492.97,663.18 L493,663.68 L492.94,664.18 L492.72,664.68 L492.36,665.18 L491.91,665.68 L491.41,666.17 L490.91,666.67 L490.44,667.17 L489.94,667.67 L489.39,668.17 L488.81,668.67 L488.2,669.17 L487.57,669.67 L486.92,670.17 L486.27,670.67 L485.61,671.17 L484.95,671.67 L484.25,672.16 L483.54,672.66 L482.81,673.16 L482.08,673.66 L481.35,674.16 L480.63,674.66 L479.92,675.16 L479.21,675.66 L478.51,676.16 L477.81,676.66 L477.11,677.16 L476.41,677.65 L475.71,678.15 L475.02,678.65 L474.33,679.15 L473.59,679.65 L472.79,680.15 L472,680.65 L471.25,681.15 L470.59,681.65 L470.09,682.15 L469.75,682.65 L469.44,683.15 L469.16,683.64 L468.9,684.14 L468.68,684.64 L468.5,685.14 L468.38,685.64 L468.31,686.14 L468.31,686.64 L468.38,687.14 L468.51,687.64 L468.67,688.14 L468.86,688.64 L469.06,689.13 L469.25,689.63 L469.41,690.13 L469.53,690.63 L469.64,691.13 L469.75,691.63 L469.87,692.13 L469.97,692.63 L470.07,693.13 L470.16,693.63 L470.23,694.13 L470.27,694.63 L470.3,695.12 L470.3,695.62 L470.29,696.12 L470.26,696.62 L470.23,697.12 L470.19,697.62 L470.15,698.12 L470.1,698.62 L470.04,699.12 L469.98,699.62 L469.91,700.12 L469.83,700.61 L469.69,701.11 L469.52,701.61 L469.32,702.11 L469.1,702.61 L468.86,703.11 L468.61,703.61 L468.36,704.11 L468.12,704.61 L467.9,705.11 L467.68,705.61 L467.46,706.11 L467.24,706.6 L467.02,707.1 L466.79,707.6 L466.56,708.1 L466.33,708.6 L466.1,709.1 L466.1,709.1 L465.87,708.6 L465.64,708.1 L465.41,707.6 L465.18,707.1 L464.96,706.6 L464.74,706.11 L464.52,705.61 L464.3,705.11 L464.08,704.61 L463.84,704.11 L463.59,703.61 L463.34,703.11 L463.1,702.61 L462.88,702.11 L462.68,701.61 L462.51,701.11 L462.37,700.61 L462.29,700.12 L462.22,699.62 L462.16,699.12 L462.1,698.62 L462.05,698.12 L462.01,697.62 L461.97,697.12 L461.94,696.62 L461.91,696.12 L461.9,695.62 L461.9,695.12 L461.93,694.63 L461.97,694.13 L462.04,693.63 L462.13,693.13 L462.23,692.63 L462.33,692.13 L462.45,691.63 L462.56,691.13 L462.67,690.63 L462.79,690.13 L462.95,689.63 L463.14,689.13 L463.34,688.64 L463.53,688.14 L463.69,687.64 L463.82,687.14 L463.89,686.64 L463.89,686.14 L463.82,685.64 L463.7,685.14 L463.52,684.64 L463.3,684.14 L463.04,683.64 L462.76,683.15 L462.45,682.65 L462.11,682.15 L461.61,681.65 L460.95,681.15 L460.2,680.65 L459.41,680.15 L458.61,679.65 L457.87,679.15 L457.18,678.65 L456.49,678.15 L455.79,677.65 L455.09,677.16 L454.39,676.66 L453.69,676.16 L452.99,675.66 L452.28,675.16 L451.57,674.66 L450.85,674.16 L450.12,673.66 L449.39,673.16 L448.66,672.66 L447.95,672.16 L447.25,671.67 L446.59,671.17 L445.93,670.67 L445.28,670.17 L444.63,669.67 L444,669.17 L443.39,668.67 L442.81,668.17 L442.26,667.67 L441.76,667.17 L441.29,666.67 L440.79,666.17 L440.29,665.68 L439.84,665.18 L439.48,664.68 L439.26,664.18 L439.2,663.68 L439.23,663.18 L439.3,662.68 L439.39,662.18 L439.5,661.68 L439.63,661.18 L439.83,660.68 L440.13,660.19 L440.5,659.69 L440.93,659.19 L441.41,658.69 L441.93,658.19 L442.47,657.69 L443.02,657.19 L443.69,656.69 L444.47,656.19 L445.35,655.69 L446.28,655.19 L447.21,654.69 L448.12,654.2 L448.96,653.7 L449.7,653.2 L450.43,652.7 L451.2,652.2 L451.95,651.7 L452.61,651.2 L453.11,650.7 L453.37,650.2 L453.39,649.7 L453.35,649.2 L453.29,648.71 L453.22,648.21 L453.14,647.71 L453.07,647.21 L453.02,646.71 L453,646.21 L453.01,645.71 L453.04,645.21 L453.09,644.71 L453.16,644.21 L453.24,643.71 L453.34,643.21 L453.44,642.72 L453.56,642.22 L453.69,641.72 L453.82,641.22 L454.03,640.72 L454.33,640.22 L454.7,639.72 L455.13,639.22 L455.6,638.72 L456.1,638.22 L456.59,637.72 L457.08,637.23 L457.53,636.73 L457.94,636.23 L458.37,635.73 L458.83,635.23 L459.29,634.73 L459.76,634.23 L460.2,633.73 L460.61,633.23 L460.96,632.73 L461.25,632.23 L461.46,631.73 L461.59,631.24 L461.7,630.74 L461.8,630.24 L461.88,629.74 L461.95,629.24 L462.02,628.74 L462.08,628.24 L462.15,627.74 L462.22,627.24 L462.29,626.74 L462.37,626.24 L462.46,625.75 L462.54,625.25 L462.62,624.75 L462.7,624.25 L462.78,623.75 L462.87,623.25 L462.95,622.75 L463.04,622.25 L463.13,621.75 L463.24,621.25 L463.36,620.75 L463.49,620.25 L463.62,619.76 L463.73,619.26 L463.82,618.76 L463.88,618.26 L463.9,617.76 L463.87,617.26 L463.79,616.76 L463.66,616.26 L463.5,615.76 L463.32,615.26 L463.12,614.76 L462.9,614.27 L462.69,613.77 L462.4,613.27 L462.03,612.77 L461.6,612.27 L461.13,611.77 L460.66,611.27 L460.22,610.77 L459.83,610.27 L459.53,609.77 L459.3,609.27 L459.07,608.77 L458.85,608.28 L458.65,607.78 L458.47,607.28 L458.34,606.78 L458.24,606.28 L458.2,605.78 L458.22,605.28 L458.29,604.78 L458.41,604.28 L458.56,603.78 L458.75,603.28 L458.96,602.79 L459.18,602.29 L459.41,601.79 L459.67,601.29 L460.01,600.79 L460.42,600.29 L460.89,599.79 L461.4,599.29 L461.92,598.79 L462.43,598.29 L462.92,597.79 L463.38,597.29 L463.83,596.8 L464.28,596.3 L464.74,595.8 L465.19,595.3 L465.64,594.8 L466.1,594.3 Z" fill="#f57474" stroke="#000" stroke-width="1.4" stroke-linejoin="round"/>
<line x1="466.1" y1="585.4" x2="466.1" y2="595.3" stroke="#000" stroke-width="1.6"/>
<line x1="466.1" y1="708.1" x2="466.1" y2="718.8" stroke="#000" stroke-width="1.6"/>
<line x1="454.18" y1="643.5" x2="478.02" y2="643.5" stroke="#f8dada" stroke-width="1" stroke-dasharray="1.2 1.2"/>
<line x1="444.81" y1="669.1" x2="487.39" y2="669.1" stroke="#f8dada" stroke-width="1" stroke-dasharray="1.2 1.2"/>
<line x1="440.21" y1="662.6" x2="491.99" y2="662.6" stroke="#dcdcdc" stroke-width="1.3" stroke-dasharray="3.5 2"/>
<circle cx="463.06" cy="607.21" r="1.6" fill="#fff"/>
<circle cx="469.05" cy="605.91" r="1.6" fill="#fff"/>
<circle cx="466.3" cy="627.77" r="1.6" fill="#fff"/>
<circle cx="463.06" cy="642.83" r="1.6" fill="#fff"/>
<circle cx="469.05" cy="644.45" r="1.6" fill="#fff"/>
<circle cx="463.06" cy="646.4" r="1.6" fill="#fff"/>
<circle cx="466.3" cy="653.68" r="1.6" fill="#fff"/>
<circle cx="457.39" cy="662.91" r="1.6" fill="#fff"/>
<circle cx="463.06" cy="660.97" r="1.6" fill="#fff"/>
<circle cx="469.05" cy="662.91" r="1.6" fill="#fff"/>
<circle cx="475.2" cy="662.27" r="1.6" fill="#fff"/>
<circle cx="463.06" cy="665.34" r="1.6" fill="#fff"/>
<circle cx="469.05" cy="665.83" r="1.6" fill="#fff"/>
<circle cx="463.06" cy="673.44" r="1.6" fill="#fff"/>
<circle cx="469.05" cy="672.31" r="1.6" fill="#fff"/>
<circle cx="469.05" cy="676.36" r="1.6" fill="#fff"/>
<circle cx="466.3" cy="699.03" r="1.6" fill="#fff"/>
<text x="561" y="530.4" font-size="26" font-weight="bold" text-anchor="start" fill="#000">f</text>
<text x="702.6" y="522.8" font-size="14.5" font-weight="bold" text-anchor="middle" fill="#000">Micro-online</text>
<line x1="603.1" y1="557.8" x2="606.1" y2="557.8" stroke="#000" stroke-width="1.3"/>
<line x1="606.1" y1="557.1" x2="606.1" y2="751" stroke="#000" stroke-width="1.6"/>
<line x1="605.3" y1="750.2" x2="799" y2="750.2" stroke="#000" stroke-width="1.6"/>
<line x1="603.1" y1="557.8" x2="606.1" y2="557.8" stroke="#000" stroke-width="1.3"/>
<line x1="603.1" y1="596.28" x2="606.1" y2="596.28" stroke="#000" stroke-width="1.3"/>
<line x1="603.1" y1="634.76" x2="606.1" y2="634.76" stroke="#000" stroke-width="1.3"/>
<line x1="603.1" y1="673.24" x2="606.1" y2="673.24" stroke="#000" stroke-width="1.3"/>
<line x1="603.1" y1="711.72" x2="606.1" y2="711.72" stroke="#000" stroke-width="1.3"/>
<line x1="601.9" y1="577.04" x2="606.1" y2="577.04" stroke="#000" stroke-width="1.4"/>
<text x="601.2" y="582.14" font-size="14.5" font-weight="bold" text-anchor="end" fill="#000">4</text>
<line x1="601.9" y1="615.52" x2="606.1" y2="615.52" stroke="#000" stroke-width="1.4"/>
<text x="601.2" y="620.62" font-size="14.5" font-weight="bold" text-anchor="end" fill="#000">2</text>
<line x1="601.9" y1="654" x2="606.1" y2="654" stroke="#000" stroke-width="1.4"/>
<text x="601.2" y="659.1" font-size="14.5" font-weight="bold" text-anchor="end" fill="#000">0</text>
<line x1="601.9" y1="692.48" x2="606.1" y2="692.48" stroke="#000" stroke-width="1.4"/>
<text x="601.2" y="697.58" font-size="14.5" font-weight="bold" text-anchor="end" fill="#000">-2</text>
<line x1="601.9" y1="730.96" x2="606.1" y2="730.96" stroke="#000" stroke-width="1.4"/>
<text x="601.2" y="736.06" font-size="14.5" font-weight="bold" text-anchor="end" fill="#000">-4</text>
<line x1="661.3" y1="750.2" x2="661.3" y2="753.8" stroke="#000" stroke-width="1.4"/>
<line x1="743.3" y1="750.2" x2="743.3" y2="753.8" stroke="#000" stroke-width="1.4"/>
<text x="580.4" y="645.5" font-size="14" font-weight="bold" text-anchor="middle" fill="#000" transform="rotate(-90 580.4 645.5)">Summed &#916; skill</text>
<text x="659.4" y="768.8" font-size="14" font-weight="bold" text-anchor="middle" fill="#000">HIIT</text>
<text x="743.8" y="768.8" font-size="14" font-weight="bold" text-anchor="middle" fill="#000">LOW</text>
<line x1="607.1" y1="654" x2="800" y2="654" stroke="#000" stroke-width="1" stroke-dasharray="1.2 1.1"/>
<path d="M661,552.9 L661,548.7 L743.6,548.7 L743.6,577.9" fill="none" stroke="#444" stroke-width="1.1"/>
<text x="702.2" y="543.8" font-size="12.5" text-anchor="middle" fill="#222">ns</text>
<path d="M661,577 L661.25,577.5 L661.51,578 L661.77,578.5 L662.03,579 L662.29,579.5 L662.56,580 L662.83,580.5 L663.1,581 L663.37,581.5 L663.65,582 L663.92,582.5 L664.2,583 L664.48,583.5 L664.77,583.99 L665.06,584.49 L665.35,584.99 L665.65,585.49 L665.96,585.99 L666.28,586.49 L666.62,586.99 L666.97,587.49 L667.32,587.99 L667.68,588.49 L668.03,588.99 L668.37,589.49 L668.7,589.99 L669.02,590.49 L669.31,590.99 L669.6,591.49 L669.88,591.99 L670.16,592.49 L670.43,592.99 L670.7,593.49 L670.94,593.99 L671.17,594.49 L671.38,594.99 L671.56,595.49 L671.73,595.99 L671.9,596.49 L672.07,596.98 L672.23,597.48 L672.38,597.98 L672.52,598.48 L672.63,598.98 L672.72,599.48 L672.78,599.98 L672.8,600.48 L672.8,600.98 L672.8,601.48 L672.8,601.98 L672.8,602.48 L672.8,602.98 L672.8,603.48 L672.8,603.98 L672.8,604.48 L672.8,604.98 L672.8,605.48 L672.75,605.98 L672.65,606.48 L672.51,606.98 L672.34,607.48 L672.15,607.98 L671.94,608.48 L671.72,608.98 L671.5,609.48 L671.29,609.97 L671.08,610.47 L670.84,610.97 L670.56,611.47 L670.26,611.97 L669.95,612.47 L669.66,612.97 L669.38,613.47 L669.14,613.97 L668.95,614.47 L668.82,614.97 L668.75,615.47 L668.68,615.97 L668.62,616.47 L668.57,616.97 L668.52,617.47 L668.48,617.97 L668.44,618.47 L668.42,618.97 L668.4,619.47 L668.4,619.97 L668.5,620.47 L668.73,620.97 L669.07,621.47 L669.5,621.97 L669.98,622.47 L670.51,622.96 L671.04,623.46 L671.56,623.96 L672.11,624.46 L672.75,624.96 L673.45,625.46 L674.2,625.96 L674.97,626.46 L675.75,626.96 L676.52,627.46 L677.25,627.96 L677.95,628.46 L678.67,628.96 L679.4,629.46 L680.12,629.96 L680.83,630.46 L681.5,630.96 L682.15,631.46 L682.74,631.96 L683.29,632.46 L683.84,632.96 L684.38,633.46 L684.9,633.96 L685.38,634.46 L685.82,634.96 L686.2,635.46 L686.52,635.95 L686.79,636.45 L687.05,636.95 L687.3,637.45 L687.52,637.95 L687.71,638.45 L687.83,638.95 L687.9,639.45 L687.87,639.95 L687.73,640.45 L687.5,640.95 L687.2,641.45 L686.84,641.95 L686.44,642.45 L686.02,642.95 L685.61,643.45 L685.21,643.95 L684.83,644.45 L684.39,644.95 L683.9,645.45 L683.39,645.95 L682.87,646.45 L682.37,646.95 L681.9,647.45 L681.49,647.95 L681.14,648.44 L680.88,648.94 L680.62,649.44 L680.37,649.94 L680.13,650.44 L679.92,650.94 L679.73,651.44 L679.58,651.94 L679.47,652.44 L679.41,652.94 L679.4,653.44 L679.41,653.94 L679.43,654.44 L679.45,654.94 L679.48,655.44 L679.52,655.94 L679.56,656.44 L679.61,656.94 L679.66,657.44 L679.72,657.94 L679.83,658.44 L680.01,658.94 L680.23,659.44 L680.5,659.94 L680.79,660.44 L681.09,660.94 L681.4,661.43 L681.69,661.93 L681.97,662.43 L682.26,662.93 L682.56,663.43 L682.87,663.93 L683.19,664.43 L683.5,664.93 L683.82,665.43 L684.13,665.93 L684.43,666.43 L684.72,666.93 L685,667.43 L685.3,667.93 L685.59,668.43 L685.88,668.93 L686.16,669.43 L686.41,669.93 L686.65,670.43 L686.85,670.93 L687.01,671.43 L687.15,671.93 L687.29,672.43 L687.42,672.93 L687.55,673.43 L687.66,673.93 L687.76,674.42 L687.83,674.92 L687.88,675.42 L687.9,675.92 L687.89,676.42 L687.87,676.92 L687.84,677.42 L687.79,677.92 L687.73,678.42 L687.67,678.92 L687.59,679.42 L687.5,679.92 L687.41,680.42 L687.3,680.92 L687.13,681.42 L686.9,681.92 L686.63,682.42 L686.32,682.92 L685.98,683.42 L685.62,683.92 L685.24,684.42 L684.85,684.92 L684.43,685.42 L683.95,685.92 L683.4,686.42 L682.79,686.92 L682.15,687.41 L681.48,687.91 L680.8,688.41 L680.12,688.91 L679.44,689.41 L678.79,689.91 L678.11,690.41 L677.4,690.91 L676.69,691.41 L675.97,691.91 L675.25,692.41 L674.54,692.91 L673.84,693.41 L673.18,693.91 L672.53,694.41 L671.9,694.91 L671.27,695.41 L670.64,695.91 L670.03,696.41 L669.44,696.91 L668.87,697.41 L668.31,697.91 L667.79,698.41 L667.3,698.91 L666.83,699.41 L666.39,699.91 L665.97,700.4 L665.56,700.9 L665.17,701.4 L664.78,701.9 L664.39,702.4 L664.01,702.9 L663.62,703.4 L663.23,703.9 L662.85,704.4 L662.47,704.9 L662.1,705.4 L661.73,705.9 L661.36,706.4 L661,706.9 L661,706.9 L660.64,706.4 L660.27,705.9 L659.9,705.4 L659.53,704.9 L659.15,704.4 L658.77,703.9 L658.38,703.4 L657.99,702.9 L657.61,702.4 L657.22,701.9 L656.83,701.4 L656.44,700.9 L656.03,700.4 L655.61,699.91 L655.17,699.41 L654.7,698.91 L654.21,698.41 L653.69,697.91 L653.13,697.41 L652.56,696.91 L651.97,696.41 L651.36,695.91 L650.73,695.41 L650.1,694.91 L649.47,694.41 L648.82,693.91 L648.16,693.41 L647.46,692.91 L646.75,692.41 L646.03,691.91 L645.31,691.41 L644.6,690.91 L643.89,690.41 L643.21,689.91 L642.56,689.41 L641.88,688.91 L641.2,688.41 L640.52,687.91 L639.85,687.41 L639.21,686.92 L638.6,686.42 L638.05,685.92 L637.57,685.42 L637.15,684.92 L636.76,684.42 L636.38,683.92 L636.02,683.42 L635.68,682.92 L635.37,682.42 L635.1,681.92 L634.87,681.42 L634.7,680.92 L634.59,680.42 L634.5,679.92 L634.41,679.42 L634.33,678.92 L634.27,678.42 L634.21,677.92 L634.16,677.42 L634.13,676.92 L634.11,676.42 L634.1,675.92 L634.12,675.42 L634.17,674.92 L634.24,674.42 L634.34,673.93 L634.45,673.43 L634.58,672.93 L634.71,672.43 L634.85,671.93 L634.99,671.43 L635.15,670.93 L635.35,670.43 L635.59,669.93 L635.84,669.43 L636.12,668.93 L636.41,668.43 L636.7,667.93 L637,667.43 L637.28,666.93 L637.57,666.43 L637.87,665.93 L638.18,665.43 L638.5,664.93 L638.81,664.43 L639.13,663.93 L639.44,663.43 L639.74,662.93 L640.03,662.43 L640.31,661.93 L640.6,661.43 L640.91,660.94 L641.21,660.44 L641.5,659.94 L641.77,659.44 L641.99,658.94 L642.17,658.44 L642.28,657.94 L642.34,657.44 L642.39,656.94 L642.44,656.44 L642.48,655.94 L642.52,655.44 L642.55,654.94 L642.57,654.44 L642.59,653.94 L642.6,653.44 L642.59,652.94 L642.53,652.44 L642.42,651.94 L642.27,651.44 L642.08,650.94 L641.87,650.44 L641.63,649.94 L641.38,649.44 L641.12,648.94 L640.86,648.44 L640.51,647.95 L640.1,647.45 L639.63,646.95 L639.13,646.45 L638.61,645.95 L638.1,645.45 L637.61,644.95 L637.17,644.45 L636.79,643.95 L636.39,643.45 L635.98,642.95 L635.56,642.45 L635.16,641.95 L634.8,641.45 L634.5,640.95 L634.27,640.45 L634.13,639.95 L634.1,639.45 L634.17,638.95 L634.29,638.45 L634.48,637.95 L634.7,637.45 L634.95,636.95 L635.21,636.45 L635.48,635.95 L635.8,635.46 L636.18,634.96 L636.62,634.46 L637.1,633.96 L637.62,633.46 L638.16,632.96 L638.71,632.46 L639.26,631.96 L639.85,631.46 L640.5,630.96 L641.17,630.46 L641.88,629.96 L642.6,629.46 L643.33,628.96 L644.05,628.46 L644.75,627.96 L645.48,627.46 L646.25,626.96 L647.03,626.46 L647.8,625.96 L648.55,625.46 L649.25,624.96 L649.89,624.46 L650.44,623.96 L650.96,623.46 L651.49,622.96 L652.02,622.47 L652.5,621.97 L652.93,621.47 L653.27,620.97 L653.5,620.47 L653.6,619.97 L653.6,619.47 L653.58,618.97 L653.56,618.47 L653.52,617.97 L653.48,617.47 L653.43,616.97 L653.38,616.47 L653.32,615.97 L653.25,615.47 L653.18,614.97 L653.05,614.47 L652.86,613.97 L652.62,613.47 L652.34,612.97 L652.05,612.47 L651.74,611.97 L651.44,611.47 L651.16,610.97 L650.92,610.47 L650.71,609.97 L650.5,609.48 L650.28,608.98 L650.06,608.48 L649.85,607.98 L649.66,607.48 L649.49,606.98 L649.35,606.48 L649.25,605.98 L649.2,605.48 L649.2,604.98 L649.2,604.48 L649.2,603.98 L649.2,603.48 L649.2,602.98 L649.2,602.48 L649.2,601.98 L649.2,601.48 L649.2,600.98 L649.2,600.48 L649.22,599.98 L649.28,599.48 L649.37,598.98 L649.48,598.48 L649.62,597.98 L649.77,597.48 L649.93,596.98 L650.1,596.49 L650.27,595.99 L650.44,595.49 L650.62,594.99 L650.83,594.49 L651.06,593.99 L651.3,593.49 L651.57,592.99 L651.84,592.49 L652.12,591.99 L652.4,591.49 L652.69,590.99 L652.98,590.49 L653.3,589.99 L653.63,589.49 L653.97,588.99 L654.32,588.49 L654.68,587.99 L655.03,587.49 L655.38,586.99 L655.72,586.49 L656.04,585.99 L656.35,585.49 L656.65,584.99 L656.94,584.49 L657.23,583.99 L657.52,583.5 L657.8,583 L658.08,582.5 L658.35,582 L658.63,581.5 L658.9,581 L659.17,580.5 L659.44,580 L659.71,579.5 L659.97,579 L660.23,578.5 L660.49,578 L660.75,577.5 L661,577 Z" fill="#0a3cc8" stroke="#000" stroke-width="1.4" stroke-linejoin="round"/>
<line x1="661" y1="563.2" x2="661" y2="578" stroke="#000" stroke-width="1.6"/>
<line x1="661" y1="705.9" x2="661" y2="720.6" stroke="#000" stroke-width="1.6"/>
<line x1="636.19" y1="636.3" x2="685.81" y2="636.3" stroke="#c8d4f4" stroke-width="1" stroke-dasharray="1.2 1.2"/>
<line x1="635.14" y1="678.2" x2="686.86" y2="678.2" stroke="#c8d4f4" stroke-width="1" stroke-dasharray="1.2 1.2"/>
<line x1="643.5" y1="653.5" x2="678.5" y2="653.5" stroke="#dde4f4" stroke-width="1.3" stroke-dasharray="3.5 2"/>
<circle cx="660.92" cy="594.57" r="1.6" fill="#fff"/>
<circle cx="660.92" cy="604.76" r="1.6" fill="#fff"/>
<circle cx="660.92" cy="610.1" r="1.6" fill="#fff"/>
<circle cx="654.74" cy="635.15" r="1.6" fill="#fff"/>
<circle cx="660.92" cy="637.15" r="1.6" fill="#fff"/>
<circle cx="654.74" cy="639.66" r="1.6" fill="#fff"/>
<circle cx="660.92" cy="642.33" r="1.6" fill="#fff"/>
<circle cx="667.26" cy="640.16" r="1.6" fill="#fff"/>
<circle cx="660.92" cy="653.52" r="1.6" fill="#fff"/>
<circle cx="660.92" cy="658.03" r="1.6" fill="#fff"/>
<circle cx="657.91" cy="670.55" r="1.6" fill="#fff"/>
<circle cx="664.26" cy="667.88" r="1.6" fill="#fff"/>
<circle cx="660.92" cy="677.4" r="1.6" fill="#fff"/>
<circle cx="667.26" cy="679.41" r="1.6" fill="#fff"/>
<circle cx="660.92" cy="681.58" r="1.6" fill="#fff"/>
<circle cx="657.91" cy="689.09" r="1.6" fill="#fff"/>
<circle cx="664.26" cy="686.92" r="1.6" fill="#fff"/>
<path d="M743.5,600.4 L743.68,600.9 L743.87,601.4 L744.06,601.9 L744.26,602.4 L744.46,602.9 L744.67,603.39 L744.88,603.89 L745.1,604.39 L745.33,604.89 L745.59,605.39 L745.86,605.89 L746.13,606.39 L746.4,606.89 L746.65,607.39 L746.88,607.89 L747.06,608.39 L747.22,608.89 L747.38,609.38 L747.53,609.88 L747.67,610.38 L747.8,610.88 L747.9,611.38 L747.97,611.88 L748,612.38 L747.99,612.88 L747.96,613.38 L747.9,613.88 L747.84,614.38 L747.76,614.87 L747.69,615.37 L747.62,615.87 L747.56,616.37 L747.52,616.87 L747.5,617.37 L747.51,617.87 L747.53,618.37 L747.58,618.87 L747.64,619.37 L747.71,619.87 L747.79,620.36 L747.89,620.86 L747.99,621.36 L748.17,621.86 L748.48,622.36 L748.9,622.86 L749.4,623.36 L749.97,623.86 L750.58,624.36 L751.21,624.86 L751.83,625.36 L752.45,625.86 L753.16,626.35 L753.93,626.85 L754.74,627.35 L755.57,627.85 L756.39,628.35 L757.17,628.85 L757.9,629.35 L758.55,629.85 L759.19,630.35 L759.79,630.85 L760.38,631.35 L760.96,631.84 L761.52,632.34 L762.07,632.84 L762.62,633.34 L763.16,633.84 L763.72,634.34 L764.26,634.84 L764.81,635.34 L765.34,635.84 L765.84,636.34 L766.33,636.84 L766.78,637.34 L767.19,637.83 L767.61,638.33 L768.02,638.83 L768.42,639.33 L768.79,639.83 L769.13,640.33 L769.43,640.83 L769.67,641.33 L769.84,641.83 L769.99,642.33 L770.13,642.83 L770.27,643.32 L770.38,643.82 L770.48,644.32 L770.55,644.82 L770.59,645.32 L770.6,645.82 L770.56,646.32 L770.47,646.82 L770.33,647.32 L770.17,647.82 L769.99,648.32 L769.79,648.81 L769.59,649.31 L769.39,649.81 L769.19,650.31 L768.96,650.81 L768.71,651.31 L768.43,651.81 L768.13,652.31 L767.78,652.81 L767.35,653.31 L766.87,653.81 L766.37,654.31 L765.88,654.8 L765.43,655.3 L764.98,655.8 L764.54,656.3 L764.1,656.8 L763.66,657.3 L763.22,657.8 L762.77,658.3 L762.3,658.8 L761.82,659.3 L761.32,659.8 L760.82,660.29 L760.3,660.79 L759.79,661.29 L759.29,661.79 L758.8,662.29 L758.32,662.79 L757.85,663.29 L757.38,663.79 L756.91,664.29 L756.46,664.79 L756.02,665.29 L755.59,665.79 L755.19,666.28 L754.8,666.78 L754.42,667.28 L754.05,667.78 L753.69,668.28 L753.35,668.78 L753.03,669.28 L752.73,669.78 L752.46,670.28 L752.2,670.78 L751.96,671.28 L751.72,671.77 L751.5,672.27 L751.3,672.77 L751.12,673.27 L750.96,673.77 L750.83,674.27 L750.7,674.77 L750.57,675.27 L750.46,675.77 L750.36,676.27 L750.27,676.77 L750.22,677.26 L750.2,677.76 L750.2,678.26 L750.2,678.76 L750.2,679.26 L750.2,679.76 L750.2,680.26 L750.2,680.76 L750.2,681.26 L750.2,681.76 L750.23,682.26 L750.3,682.76 L750.39,683.25 L750.5,683.75 L750.62,684.25 L750.74,684.75 L750.86,685.25 L750.99,685.75 L751.14,686.25 L751.3,686.75 L751.48,687.25 L751.66,687.75 L751.83,688.25 L751.98,688.74 L752.11,689.24 L752.23,689.74 L752.36,690.24 L752.48,690.74 L752.59,691.24 L752.69,691.74 L752.76,692.24 L752.79,692.74 L752.8,693.24 L752.8,693.74 L752.8,694.24 L752.8,694.73 L752.8,695.23 L752.8,695.73 L752.8,696.23 L752.8,696.73 L752.78,697.23 L752.71,697.73 L752.59,698.23 L752.44,698.73 L752.26,699.23 L752.07,699.73 L751.86,700.22 L751.64,700.72 L751.36,701.22 L751.01,701.72 L750.6,702.22 L750.16,702.72 L749.7,703.22 L749.26,703.72 L748.84,704.22 L748.46,704.72 L748.08,705.22 L747.7,705.71 L747.32,706.21 L746.95,706.71 L746.61,707.21 L746.29,707.71 L745.99,708.21 L745.73,708.71 L745.48,709.21 L745.25,709.71 L745.03,710.21 L744.82,710.71 L744.62,711.21 L744.42,711.7 L744.22,712.2 L744.03,712.7 L743.85,713.2 L743.67,713.7 L743.5,714.2 L743.5,714.2 L743.33,713.7 L743.15,713.2 L742.97,712.7 L742.78,712.2 L742.58,711.7 L742.38,711.21 L742.18,710.71 L741.97,710.21 L741.75,709.71 L741.52,709.21 L741.27,708.71 L741.01,708.21 L740.71,707.71 L740.39,707.21 L740.05,706.71 L739.68,706.21 L739.3,705.71 L738.92,705.22 L738.54,704.72 L738.16,704.22 L737.74,703.72 L737.3,703.22 L736.84,702.72 L736.4,702.22 L735.99,701.72 L735.64,701.22 L735.36,700.72 L735.14,700.22 L734.93,699.73 L734.74,699.23 L734.56,698.73 L734.41,698.23 L734.29,697.73 L734.22,697.23 L734.2,696.73 L734.2,696.23 L734.2,695.73 L734.2,695.23 L734.2,694.73 L734.2,694.24 L734.2,693.74 L734.2,693.24 L734.21,692.74 L734.24,692.24 L734.31,691.74 L734.41,691.24 L734.52,690.74 L734.64,690.24 L734.77,689.74 L734.89,689.24 L735.02,688.74 L735.17,688.25 L735.34,687.75 L735.52,687.25 L735.7,686.75 L735.86,686.25 L736.01,685.75 L736.14,685.25 L736.26,684.75 L736.38,684.25 L736.5,683.75 L736.61,683.25 L736.7,682.76 L736.77,682.26 L736.8,681.76 L736.8,681.26 L736.8,680.76 L736.8,680.26 L736.8,679.76 L736.8,679.26 L736.8,678.76 L736.8,678.26 L736.8,677.76 L736.78,677.26 L736.73,676.77 L736.64,676.27 L736.54,675.77 L736.43,675.27 L736.3,674.77 L736.17,674.27 L736.04,673.77 L735.88,673.27 L735.7,672.77 L735.5,672.27 L735.28,671.77 L735.04,671.28 L734.8,670.78 L734.54,670.28 L734.27,669.78 L733.97,669.28 L733.65,668.78 L733.31,668.28 L732.95,667.78 L732.58,667.28 L732.2,666.78 L731.81,666.28 L731.41,665.79 L730.98,665.29 L730.54,664.79 L730.09,664.29 L729.62,663.79 L729.15,663.29 L728.68,662.79 L728.2,662.29 L727.71,661.79 L727.21,661.29 L726.7,660.79 L726.18,660.29 L725.68,659.8 L725.18,659.3 L724.7,658.8 L724.23,658.3 L723.78,657.8 L723.34,657.3 L722.9,656.8 L722.46,656.3 L722.02,655.8 L721.57,655.3 L721.12,654.8 L720.63,654.31 L720.13,653.81 L719.65,653.31 L719.22,652.81 L718.87,652.31 L718.57,651.81 L718.29,651.31 L718.04,650.81 L717.81,650.31 L717.61,649.81 L717.41,649.31 L717.21,648.81 L717.01,648.32 L716.83,647.82 L716.67,647.32 L716.53,646.82 L716.44,646.32 L716.4,645.82 L716.41,645.32 L716.45,644.82 L716.52,644.32 L716.62,643.82 L716.73,643.32 L716.87,642.83 L717.01,642.33 L717.16,641.83 L717.33,641.33 L717.57,640.83 L717.87,640.33 L718.21,639.83 L718.58,639.33 L718.98,638.83 L719.39,638.33 L719.81,637.83 L720.22,637.34 L720.67,636.84 L721.16,636.34 L721.66,635.84 L722.19,635.34 L722.74,634.84 L723.28,634.34 L723.84,633.84 L724.38,633.34 L724.93,632.84 L725.48,632.34 L726.04,631.84 L726.62,631.35 L727.21,630.85 L727.81,630.35 L728.45,629.85 L729.1,629.35 L729.83,628.85 L730.61,628.35 L731.43,627.85 L732.26,627.35 L733.07,626.85 L733.84,626.35 L734.55,625.86 L735.17,625.36 L735.79,624.86 L736.42,624.36 L737.03,623.86 L737.6,623.36 L738.1,622.86 L738.52,622.36 L738.83,621.86 L739.01,621.36 L739.11,620.86 L739.21,620.36 L739.29,619.87 L739.36,619.37 L739.42,618.87 L739.47,618.37 L739.49,617.87 L739.5,617.37 L739.48,616.87 L739.44,616.37 L739.38,615.87 L739.31,615.37 L739.24,614.87 L739.16,614.38 L739.1,613.88 L739.04,613.38 L739.01,612.88 L739,612.38 L739.03,611.88 L739.1,611.38 L739.2,610.88 L739.33,610.38 L739.47,609.88 L739.62,609.38 L739.78,608.89 L739.94,608.39 L740.12,607.89 L740.35,607.39 L740.6,606.89 L740.87,606.39 L741.14,605.89 L741.41,605.39 L741.67,604.89 L741.9,604.39 L742.12,603.89 L742.33,603.39 L742.54,602.9 L742.74,602.4 L742.94,601.9 L743.13,601.4 L743.32,600.9 L743.5,600.4 Z" fill="#6a8dea" stroke="#000" stroke-width="1.4" stroke-linejoin="round"/>
<line x1="743.5" y1="589" x2="743.5" y2="601.4" stroke="#000" stroke-width="1.6"/>
<line x1="743.5" y1="713.2" x2="743.5" y2="723.7" stroke="#000" stroke-width="1.6"/>
<line x1="721.07" y1="637.4" x2="765.93" y2="637.4" stroke="#e0e8fb" stroke-width="1" stroke-dasharray="1.2 1.2"/>
<line x1="734.88" y1="669.3" x2="752.12" y2="669.3" stroke="#e0e8fb" stroke-width="1" stroke-dasharray="1.2 1.2"/>
<line x1="718.5" y1="649.8" x2="768.5" y2="649.8" stroke="#e4e8f0" stroke-width="1.3" stroke-dasharray="3.5 2"/>
<circle cx="743.71" cy="613.39" r="1.6" fill="#fff"/>
<circle cx="740.67" cy="633.89" r="1.6" fill="#fff"/>
<circle cx="734.3" cy="636.92" r="1.6" fill="#fff"/>
<circle cx="740.67" cy="638.44" r="1.6" fill="#fff"/>
<circle cx="752.81" cy="636.92" r="1.6" fill="#fff"/>
<circle cx="743.71" cy="644.97" r="1.6" fill="#fff"/>
<circle cx="734.3" cy="648.61" r="1.6" fill="#fff"/>
<circle cx="740.67" cy="649.82" r="1.6" fill="#fff"/>
<circle cx="746.74" cy="650.58" r="1.6" fill="#fff"/>
<circle cx="752.81" cy="648.61" r="1.6" fill="#fff"/>
<circle cx="740.67" cy="659.69" r="1.6" fill="#fff"/>
<circle cx="746.74" cy="659.69" r="1.6" fill="#fff"/>
<circle cx="743.71" cy="664.7" r="1.6" fill="#fff"/>
<circle cx="743.71" cy="673.81" r="1.6" fill="#fff"/>
<circle cx="743.71" cy="686.71" r="1.6" fill="#fff"/>
<circle cx="740.67" cy="699.16" r="1.6" fill="#fff"/>
<circle cx="746.74" cy="697.64" r="1.6" fill="#fff"/>
<text x="117" y="810" font-size="26" font-weight="bold" text-anchor="start" fill="#000">g</text>
<line x1="169.9" y1="808.71" x2="169.9" y2="960.4" stroke="#222" stroke-width="1.3"/>
<line x1="169.3" y1="959.8" x2="358.1" y2="959.8" stroke="#222" stroke-width="1.3"/>
<line x1="167.5" y1="809.21" x2="169.9" y2="809.21" stroke="#222" stroke-width="1.1"/>
<text x="166.4" y="812.51" font-size="9.2" font-weight="bold" text-anchor="end" fill="#000">4</text>
<line x1="167.5" y1="830.72" x2="169.9" y2="830.72" stroke="#222" stroke-width="1.1"/>
<text x="166.4" y="834.02" font-size="9.2" font-weight="bold" text-anchor="end" fill="#000">3</text>
<line x1="167.5" y1="852.23" x2="169.9" y2="852.23" stroke="#222" stroke-width="1.1"/>
<text x="166.4" y="855.53" font-size="9.2" font-weight="bold" text-anchor="end" fill="#000">2</text>
<line x1="167.5" y1="873.74" x2="169.9" y2="873.74" stroke="#222" stroke-width="1.1"/>
<text x="166.4" y="877.04" font-size="9.2" font-weight="bold" text-anchor="end" fill="#000">1</text>
<line x1="167.5" y1="895.25" x2="169.9" y2="895.25" stroke="#222" stroke-width="1.1"/>
<text x="166.4" y="898.55" font-size="9.2" font-weight="bold" text-anchor="end" fill="#000">0</text>
<line x1="167.5" y1="916.76" x2="169.9" y2="916.76" stroke="#222" stroke-width="1.1"/>
<text x="166.4" y="920.06" font-size="9.2" font-weight="bold" text-anchor="end" fill="#000">-1</text>
<line x1="167.5" y1="938.27" x2="169.9" y2="938.27" stroke="#222" stroke-width="1.1"/>
<text x="166.4" y="941.57" font-size="9.2" font-weight="bold" text-anchor="end" fill="#000">-2</text>
<line x1="167.5" y1="959.78" x2="169.9" y2="959.78" stroke="#222" stroke-width="1.1"/>
<text x="166.4" y="963.08" font-size="9.2" font-weight="bold" text-anchor="end" fill="#000">-3</text>
<line x1="169.65" y1="959.8" x2="169.65" y2="962.6" stroke="#222" stroke-width="1.1"/>
<text x="169.65" y="972.8" font-size="9" font-weight="bold" text-anchor="middle" fill="#000">-3</text>
<line x1="196.5" y1="959.8" x2="196.5" y2="962.6" stroke="#222" stroke-width="1.1"/>
<text x="196.5" y="972.8" font-size="9" font-weight="bold" text-anchor="middle" fill="#000">-2</text>
<line x1="223.35" y1="959.8" x2="223.35" y2="962.6" stroke="#222" stroke-width="1.1"/>
<text x="223.35" y="972.8" font-size="9" font-weight="bold" text-anchor="middle" fill="#000">-1</text>
<line x1="250.2" y1="959.8" x2="250.2" y2="962.6" stroke="#222" stroke-width="1.1"/>
<text x="250.2" y="972.8" font-size="9" font-weight="bold" text-anchor="middle" fill="#000">0</text>
<line x1="277.05" y1="959.8" x2="277.05" y2="962.6" stroke="#222" stroke-width="1.1"/>
<text x="277.05" y="972.8" font-size="9" font-weight="bold" text-anchor="middle" fill="#000">1</text>
<line x1="303.9" y1="959.8" x2="303.9" y2="962.6" stroke="#222" stroke-width="1.1"/>
<text x="303.9" y="972.8" font-size="9" font-weight="bold" text-anchor="middle" fill="#000">2</text>
<line x1="330.75" y1="959.8" x2="330.75" y2="962.6" stroke="#222" stroke-width="1.1"/>
<text x="330.75" y="972.8" font-size="9" font-weight="bold" text-anchor="middle" fill="#000">3</text>
<line x1="357.6" y1="959.8" x2="357.6" y2="962.6" stroke="#222" stroke-width="1.1"/>
<text x="357.6" y="972.8" font-size="9" font-weight="bold" text-anchor="middle" fill="#000">4</text>
<text x="153.6" y="881" font-size="10.7" font-weight="bold" text-anchor="middle" fill="#000" transform="rotate(-90 153.6 881)">Micro-online</text>
<text x="263.8" y="986.7" font-size="10.7" font-weight="bold" text-anchor="middle" fill="#000">Micro-offline</text>
<line x1="170.5" y1="895.25" x2="357.3" y2="895.25" stroke="#a8a8a8" stroke-width="0.9"/>
<circle cx="196.5" cy="828.5" r="1.75" fill="#000"/>
<circle cx="205.5" cy="840.2" r="1.75" fill="#000"/>
<circle cx="214.5" cy="850" r="1.75" fill="#000"/>
<circle cx="243" cy="846.2" r="1.75" fill="#000"/>
<circle cx="242.25" cy="875.75" r="1.75" fill="#000"/>
<circle cx="244.2" cy="874.25" r="1.75" fill="#000"/>
<circle cx="246" cy="875.75" r="1.75" fill="#000"/>
<circle cx="249.75" cy="872.5" r="1.75" fill="#000"/>
<circle cx="252" cy="875.75" r="1.75" fill="#000"/>
<circle cx="242.25" cy="882" r="1.75" fill="#000"/>
<circle cx="261.3" cy="877.5" r="1.75" fill="#000"/>
<circle cx="264.75" cy="879.5" r="1.75" fill="#000"/>
<circle cx="265.8" cy="878.75" r="1.75" fill="#000"/>
<circle cx="260.25" cy="885" r="1.75" fill="#000"/>
<circle cx="264.3" cy="889.25" r="1.75" fill="#000"/>
<circle cx="266.7" cy="891.5" r="1.75" fill="#000"/>
<circle cx="264" cy="894.2" r="1.75" fill="#000"/>
<circle cx="277.5" cy="889" r="1.75" fill="#000"/>
<circle cx="265.25" cy="901.3" r="1.75" fill="#000"/>
<circle cx="287.4" cy="901.45" r="1.75" fill="#000"/>
<circle cx="288.8" cy="899.5" r="1.75" fill="#000"/>
<circle cx="292.5" cy="907" r="1.75" fill="#000"/>
<circle cx="275.75" cy="910.45" r="1.75" fill="#000"/>
<circle cx="290" cy="913.3" r="1.75" fill="#000"/>
<circle cx="290.45" cy="917" r="1.75" fill="#000"/>
<circle cx="297" cy="920.5" r="1.75" fill="#000"/>
<circle cx="298.7" cy="923" r="1.75" fill="#000"/>
<circle cx="300.5" cy="925.75" r="1.75" fill="#000"/>
<circle cx="313.5" cy="931.3" r="1.75" fill="#000"/>
<circle cx="329" cy="934" r="1.75" fill="#000"/>
<circle cx="329.75" cy="931.75" r="1.75" fill="#000"/>
<circle cx="342.5" cy="943.75" r="1.75" fill="#000"/>
<circle cx="344.3" cy="945.25" r="1.75" fill="#000"/>
<text x="432" y="810.3" font-size="26" font-weight="bold" text-anchor="start" fill="#000">h</text>
<line x1="509.2" y1="806.3" x2="509.2" y2="980.1" stroke="#222" stroke-width="1.3"/>
<line x1="505.6" y1="979.5" x2="509.2" y2="979.5" stroke="#222" stroke-width="1.2"/>
<line x1="507" y1="970.87" x2="509.2" y2="970.87" stroke="#222" stroke-width="1"/>
<line x1="507" y1="962.24" x2="509.2" y2="962.24" stroke="#222" stroke-width="1"/>
<line x1="507" y1="953.61" x2="509.2" y2="953.61" stroke="#222" stroke-width="1"/>
<line x1="507" y1="944.98" x2="509.2" y2="944.98" stroke="#222" stroke-width="1"/>
<line x1="505.6" y1="936.35" x2="509.2" y2="936.35" stroke="#222" stroke-width="1.2"/>
<line x1="507" y1="927.72" x2="509.2" y2="927.72" stroke="#222" stroke-width="1"/>
<line x1="507" y1="919.09" x2="509.2" y2="919.09" stroke="#222" stroke-width="1"/>
<line x1="507" y1="910.46" x2="509.2" y2="910.46" stroke="#222" stroke-width="1"/>
<line x1="507" y1="901.83" x2="509.2" y2="901.83" stroke="#222" stroke-width="1"/>
<line x1="505.6" y1="893.2" x2="509.2" y2="893.2" stroke="#222" stroke-width="1.2"/>
<line x1="507" y1="884.57" x2="509.2" y2="884.57" stroke="#222" stroke-width="1"/>
<line x1="507" y1="875.94" x2="509.2" y2="875.94" stroke="#222" stroke-width="1"/>
<line x1="507" y1="867.31" x2="509.2" y2="867.31" stroke="#222" stroke-width="1"/>
<line x1="507" y1="858.68" x2="509.2" y2="858.68" stroke="#222" stroke-width="1"/>
<line x1="505.6" y1="850.05" x2="509.2" y2="850.05" stroke="#222" stroke-width="1.2"/>
<line x1="507" y1="841.42" x2="509.2" y2="841.42" stroke="#222" stroke-width="1"/>
<line x1="507" y1="832.79" x2="509.2" y2="832.79" stroke="#222" stroke-width="1"/>
<line x1="507" y1="824.16" x2="509.2" y2="824.16" stroke="#222" stroke-width="1"/>
<line x1="507" y1="815.53" x2="509.2" y2="815.53" stroke="#222" stroke-width="1"/>
<line x1="505.6" y1="806.9" x2="509.2" y2="806.9" stroke="#222" stroke-width="1.2"/>
<text x="503.8" y="811.2" font-size="12.5" font-weight="bold" text-anchor="end" fill="#000">1.0</text>
<text x="503.8" y="854.35" font-size="12.5" font-weight="bold" text-anchor="end" fill="#000">0.5</text>
<text x="503.8" y="897.5" font-size="12.5" font-weight="bold" text-anchor="end" fill="#000">0.0</text>
<text x="503.8" y="940.65" font-size="12.5" font-weight="bold" text-anchor="end" fill="#000">-0.5</text>
<text x="503.8" y="983.8" font-size="12.5" font-weight="bold" text-anchor="end" fill="#000">-1.0</text>
<text x="0" y="0" font-size="12.3" font-weight="bold" fill="#000" textLength="158.68" lengthAdjust="spacingAndGlyphs" transform="translate(478.6 968.01) rotate(-90)">Within-subjects correlation</text>
<line x1="509.8" y1="893.2" x2="665.2" y2="893.2" stroke="#888" stroke-width="0.9" stroke-dasharray="2.5 1.6"/>
<path d="M587.4,826.25 L587.53,826.75 L587.66,827.25 L587.8,827.75 L587.94,828.25 L588.09,828.74 L588.24,829.24 L588.39,829.74 L588.55,830.24 L588.71,830.74 L588.88,831.24 L589.05,831.74 L589.23,832.24 L589.43,832.74 L589.63,833.23 L589.84,833.73 L590.06,834.23 L590.27,834.73 L590.48,835.23 L590.68,835.73 L590.87,836.23 L591.04,836.73 L591.2,837.22 L591.36,837.72 L591.51,838.22 L591.66,838.72 L591.8,839.22 L591.94,839.72 L592.07,840.22 L592.19,840.72 L592.31,841.22 L592.41,841.71 L592.5,842.21 L592.58,842.71 L592.66,843.21 L592.72,843.71 L592.79,844.21 L592.84,844.71 L592.9,845.21 L592.96,845.71 L593.02,846.2 L593.08,846.7 L593.15,847.2 L593.23,847.7 L593.31,848.2 L593.39,848.7 L593.46,849.2 L593.54,849.7 L593.63,850.2 L593.73,850.69 L593.84,851.19 L593.96,851.69 L594.1,852.19 L594.26,852.69 L594.48,853.19 L594.81,853.69 L595.23,854.19 L595.71,854.69 L596.21,855.18 L596.7,855.68 L597.16,856.18 L597.62,856.68 L598.09,857.18 L598.56,857.68 L599.05,858.18 L599.54,858.68 L600.04,859.17 L600.55,859.67 L601.07,860.17 L601.6,860.67 L602.16,861.17 L602.74,861.67 L603.32,862.17 L603.92,862.67 L604.5,863.17 L605.08,863.66 L605.64,864.16 L606.17,864.66 L606.69,865.16 L607.19,865.66 L607.68,866.16 L608.17,866.66 L608.65,867.16 L609.12,867.66 L609.59,868.15 L610.06,868.65 L610.54,869.15 L611.04,869.65 L611.56,870.15 L612.09,870.65 L612.61,871.15 L613.12,871.65 L613.6,872.15 L614.04,872.64 L614.43,873.14 L614.76,873.64 L615.02,874.14 L615.24,874.64 L615.44,875.14 L615.62,875.64 L615.8,876.14 L615.96,876.63 L616.1,877.13 L616.23,877.63 L616.35,878.13 L616.46,878.63 L616.55,879.13 L616.64,879.63 L616.72,880.13 L616.8,880.63 L616.88,881.12 L616.95,881.62 L617.02,882.12 L617.08,882.62 L617.13,883.12 L617.16,883.62 L617.19,884.12 L617.2,884.62 L617.2,885.12 L617.19,885.61 L617.17,886.11 L617.15,886.61 L617.12,887.11 L617.09,887.61 L617.05,888.11 L617.01,888.61 L616.97,889.11 L616.93,889.61 L616.89,890.1 L616.84,890.6 L616.78,891.1 L616.71,891.6 L616.63,892.1 L616.55,892.6 L616.46,893.1 L616.37,893.6 L616.29,894.09 L616.21,894.59 L616.14,895.09 L616.07,895.59 L616.01,896.09 L615.97,896.59 L615.92,897.09 L615.88,897.59 L615.84,898.09 L615.79,898.58 L615.75,899.08 L615.72,899.58 L615.68,900.08 L615.65,900.58 L615.63,901.08 L615.61,901.58 L615.6,902.08 L615.6,902.58 L615.71,903.07 L615.96,903.57 L616.32,904.07 L616.76,904.57 L617.25,905.07 L617.75,905.57 L618.23,906.07 L618.7,906.57 L619.24,907.07 L619.83,907.56 L620.47,908.06 L621.12,908.56 L621.77,909.06 L622.39,909.56 L622.96,910.06 L623.46,910.56 L623.87,911.06 L624.19,911.56 L624.5,912.05 L624.8,912.55 L625.09,913.05 L625.36,913.55 L625.6,914.05 L625.81,914.55 L625.97,915.05 L626.09,915.55 L626.14,916.04 L626.15,916.54 L626.12,917.04 L626.08,917.54 L626.02,918.04 L625.94,918.54 L625.85,919.04 L625.75,919.54 L625.63,920.04 L625.5,920.53 L625.36,921.03 L625.19,921.53 L624.9,922.03 L624.49,922.53 L623.99,923.03 L623.42,923.53 L622.82,924.03 L622.2,924.53 L621.59,925.02 L621.02,925.52 L620.51,926.02 L620.06,926.52 L619.6,927.02 L619.12,927.52 L618.63,928.02 L618.14,928.52 L617.67,929.02 L617.21,929.51 L616.8,930.01 L616.42,930.51 L616.11,931.01 L615.86,931.51 L615.68,932.01 L615.6,932.51 L615.56,933.01 L615.53,933.5 L615.51,934 L615.49,934.5 L615.47,935 L615.45,935.5 L615.44,936 L615.43,936.5 L615.41,937 L615.4,937.5 L615.39,937.99 L615.37,938.49 L615.35,938.99 L615.33,939.49 L615.3,939.99 L615.27,940.49 L615.24,940.99 L615.2,941.49 L615.16,941.99 L615.12,942.48 L615.08,942.98 L615.03,943.48 L614.97,943.98 L614.91,944.48 L614.85,944.98 L614.77,945.48 L614.7,945.98 L614.61,946.48 L614.48,946.97 L614.32,947.47 L614.13,947.97 L613.91,948.47 L613.66,948.97 L613.39,949.47 L613.11,949.97 L612.8,950.47 L612.49,950.96 L612.17,951.46 L611.85,951.96 L611.52,952.46 L611.19,952.96 L610.82,953.46 L610.42,953.96 L610,954.46 L609.56,954.96 L609.09,955.45 L608.62,955.95 L608.14,956.45 L607.65,956.95 L607.16,957.45 L606.67,957.95 L606.19,958.45 L605.71,958.95 L605.23,959.45 L604.73,959.94 L604.22,960.44 L603.7,960.94 L603.18,961.44 L602.66,961.94 L602.15,962.44 L601.63,962.94 L601.13,963.44 L600.64,963.94 L600.17,964.43 L599.71,964.93 L599.27,965.43 L598.83,965.93 L598.4,966.43 L597.97,966.93 L597.56,967.43 L597.14,967.93 L596.74,968.43 L596.35,968.92 L595.96,969.42 L595.59,969.92 L595.23,970.42 L594.88,970.92 L594.54,971.42 L594.18,971.92 L593.81,972.42 L593.43,972.91 L593.06,973.41 L592.69,973.91 L592.34,974.41 L592.01,974.91 L591.72,975.41 L591.46,975.91 L591.25,976.41 L591.1,976.91 L591.01,977.4 L590.97,977.9 L590.93,978.4 L590.91,978.9 L590.9,979.4 L583.9,979.4 L583.89,978.9 L583.87,978.4 L583.83,977.9 L583.79,977.4 L583.7,976.91 L583.55,976.41 L583.34,975.91 L583.08,975.41 L582.79,974.91 L582.46,974.41 L582.11,973.91 L581.74,973.41 L581.37,972.91 L580.99,972.42 L580.62,971.92 L580.26,971.42 L579.92,970.92 L579.57,970.42 L579.21,969.92 L578.84,969.42 L578.45,968.92 L578.06,968.43 L577.66,967.93 L577.24,967.43 L576.83,966.93 L576.4,966.43 L575.97,965.93 L575.53,965.43 L575.09,964.93 L574.63,964.43 L574.16,963.94 L573.67,963.44 L573.17,962.94 L572.65,962.44 L572.14,961.94 L571.62,961.44 L571.1,960.94 L570.58,960.44 L570.07,959.94 L569.57,959.45 L569.09,958.95 L568.61,958.45 L568.13,957.95 L567.64,957.45 L567.15,956.95 L566.66,956.45 L566.18,955.95 L565.71,955.45 L565.24,954.96 L564.8,954.46 L564.38,953.96 L563.98,953.46 L563.61,952.96 L563.28,952.46 L562.95,951.96 L562.63,951.46 L562.31,950.96 L562,950.47 L561.69,949.97 L561.41,949.47 L561.14,948.97 L560.89,948.47 L560.67,947.97 L560.48,947.47 L560.32,946.97 L560.19,946.48 L560.1,945.98 L560.03,945.48 L559.95,944.98 L559.89,944.48 L559.83,943.98 L559.77,943.48 L559.72,942.98 L559.68,942.48 L559.64,941.99 L559.6,941.49 L559.56,940.99 L559.53,940.49 L559.5,939.99 L559.47,939.49 L559.45,938.99 L559.43,938.49 L559.41,937.99 L559.4,937.5 L559.39,937 L559.37,936.5 L559.36,936 L559.35,935.5 L559.33,935 L559.31,934.5 L559.29,934 L559.27,933.5 L559.24,933.01 L559.2,932.51 L559.12,932.01 L558.94,931.51 L558.69,931.01 L558.38,930.51 L558,930.01 L557.59,929.51 L557.13,929.02 L556.66,928.52 L556.17,928.02 L555.68,927.52 L555.2,927.02 L554.74,926.52 L554.29,926.02 L553.78,925.52 L553.21,925.02 L552.6,924.53 L551.98,924.03 L551.38,923.53 L550.81,923.03 L550.31,922.53 L549.9,922.03 L549.61,921.53 L549.44,921.03 L549.3,920.53 L549.17,920.04 L549.05,919.54 L548.95,919.04 L548.86,918.54 L548.78,918.04 L548.72,917.54 L548.68,917.04 L548.65,916.54 L548.66,916.04 L548.71,915.55 L548.83,915.05 L548.99,914.55 L549.2,914.05 L549.44,913.55 L549.71,913.05 L550,912.55 L550.3,912.05 L550.61,911.56 L550.93,911.06 L551.34,910.56 L551.84,910.06 L552.41,909.56 L553.03,909.06 L553.68,908.56 L554.33,908.06 L554.97,907.56 L555.56,907.07 L556.1,906.57 L556.57,906.07 L557.05,905.57 L557.55,905.07 L558.04,904.57 L558.48,904.07 L558.84,903.57 L559.09,903.07 L559.2,902.58 L559.2,902.08 L559.19,901.58 L559.17,901.08 L559.15,900.58 L559.12,900.08 L559.08,899.58 L559.05,899.08 L559.01,898.58 L558.96,898.09 L558.92,897.59 L558.88,897.09 L558.83,896.59 L558.79,896.09 L558.73,895.59 L558.66,895.09 L558.59,894.59 L558.51,894.09 L558.43,893.6 L558.34,893.1 L558.25,892.6 L558.17,892.1 L558.09,891.6 L558.02,891.1 L557.96,890.6 L557.91,890.1 L557.87,889.61 L557.83,889.11 L557.79,888.61 L557.75,888.11 L557.71,887.61 L557.68,887.11 L557.65,886.61 L557.63,886.11 L557.61,885.61 L557.6,885.12 L557.6,884.62 L557.61,884.12 L557.64,883.62 L557.67,883.12 L557.72,882.62 L557.78,882.12 L557.85,881.62 L557.92,881.12 L558,880.63 L558.08,880.13 L558.16,879.63 L558.25,879.13 L558.34,878.63 L558.45,878.13 L558.57,877.63 L558.7,877.13 L558.84,876.63 L559,876.14 L559.18,875.64 L559.36,875.14 L559.56,874.64 L559.78,874.14 L560.04,873.64 L560.37,873.14 L560.76,872.64 L561.2,872.15 L561.68,871.65 L562.19,871.15 L562.71,870.65 L563.24,870.15 L563.76,869.65 L564.26,869.15 L564.74,868.65 L565.21,868.15 L565.68,867.66 L566.15,867.16 L566.63,866.66 L567.12,866.16 L567.61,865.66 L568.11,865.16 L568.63,864.66 L569.16,864.16 L569.72,863.66 L570.3,863.17 L570.88,862.67 L571.48,862.17 L572.06,861.67 L572.64,861.17 L573.2,860.67 L573.73,860.17 L574.25,859.67 L574.76,859.17 L575.26,858.68 L575.75,858.18 L576.24,857.68 L576.71,857.18 L577.18,856.68 L577.64,856.18 L578.1,855.68 L578.59,855.18 L579.09,854.69 L579.57,854.19 L579.99,853.69 L580.32,853.19 L580.54,852.69 L580.7,852.19 L580.84,851.69 L580.96,851.19 L581.07,850.69 L581.17,850.2 L581.26,849.7 L581.34,849.2 L581.41,848.7 L581.49,848.2 L581.57,847.7 L581.65,847.2 L581.72,846.7 L581.78,846.2 L581.84,845.71 L581.9,845.21 L581.96,844.71 L582.01,844.21 L582.08,843.71 L582.14,843.21 L582.22,842.71 L582.3,842.21 L582.39,841.71 L582.49,841.22 L582.61,840.72 L582.73,840.22 L582.86,839.72 L583,839.22 L583.14,838.72 L583.29,838.22 L583.44,837.72 L583.6,837.22 L583.76,836.73 L583.93,836.23 L584.12,835.73 L584.32,835.23 L584.53,834.73 L584.74,834.23 L584.96,833.73 L585.17,833.23 L585.37,832.74 L585.57,832.24 L585.75,831.74 L585.92,831.24 L586.09,830.74 L586.25,830.24 L586.41,829.74 L586.56,829.24 L586.71,828.74 L586.86,828.25 L587,827.75 L587.14,827.25 L587.27,826.75 L587.4,826.25 Z" fill="#858585" stroke="#000" stroke-width="1.3" stroke-linejoin="round"/>
<line x1="587.4" y1="813.5" x2="587.4" y2="827.25" stroke="#000" stroke-width="1.5"/>
<line x1="558.59" y1="887.2" x2="616.21" y2="887.2" stroke="#3a3a3a" stroke-width="0.8"/>
<line x1="549.56" y1="916" x2="625.24" y2="916" stroke="#2a2a2a" stroke-width="1.1" stroke-dasharray="3 1.6"/>
<line x1="560.32" y1="938.1" x2="614.48" y2="938.1" stroke="#3a3a3a" stroke-width="0.8"/>
<circle cx="587.25" cy="842.88" r="1.75" fill="#000"/>
<circle cx="587.25" cy="860.38" r="1.75" fill="#000"/>
<circle cx="587.25" cy="869.38" r="1.75" fill="#000"/>
<circle cx="580.25" cy="874.12" r="1.75" fill="#000"/>
<circle cx="587.25" cy="874.75" r="1.75" fill="#000"/>
<circle cx="594.38" cy="874.38" r="1.75" fill="#000"/>
<circle cx="583.75" cy="881.25" r="1.75" fill="#000"/>
<circle cx="590.88" cy="882.5" r="1.75" fill="#000"/>
<circle cx="597.5" cy="889.38" r="1.75" fill="#000"/>
<circle cx="583.75" cy="891.62" r="1.75" fill="#000"/>
<circle cx="590.88" cy="890.88" r="1.75" fill="#000"/>
<circle cx="583.75" cy="898.12" r="1.75" fill="#000"/>
<circle cx="590.88" cy="897.12" r="1.75" fill="#000"/>
<circle cx="587.25" cy="902.25" r="1.75" fill="#000"/>
<circle cx="583.75" cy="911.25" r="1.75" fill="#000"/>
<circle cx="590.88" cy="910.25" r="1.75" fill="#000"/>
<circle cx="590.88" cy="914.38" r="1.75" fill="#000"/>
<circle cx="576.62" cy="917.75" r="1.75" fill="#000"/>
<circle cx="583.75" cy="916.88" r="1.75" fill="#000"/>
<circle cx="597.5" cy="917.75" r="1.75" fill="#000"/>
<circle cx="590.88" cy="919.75" r="1.75" fill="#000"/>
<circle cx="583.75" cy="926.88" r="1.75" fill="#000"/>
<circle cx="590.88" cy="926" r="1.75" fill="#000"/>
<circle cx="590.88" cy="929.38" r="1.75" fill="#000"/>
<circle cx="583.75" cy="931.25" r="1.75" fill="#000"/>
<circle cx="583.75" cy="937.75" r="1.75" fill="#000"/>
<circle cx="590.88" cy="940.38" r="1.75" fill="#000"/>
<circle cx="583.75" cy="943.5" r="1.75" fill="#000"/>
<circle cx="590.88" cy="946.88" r="1.75" fill="#000"/>
<circle cx="583.75" cy="951" r="1.75" fill="#000"/>
<circle cx="590.88" cy="951.88" r="1.75" fill="#000"/>
<circle cx="583.75" cy="957.5" r="1.75" fill="#000"/>
<circle cx="590.88" cy="959.12" r="1.75" fill="#000"/>
<circle cx="587.25" cy="969.62" r="1.75" fill="#000"/>
</svg></body></html>
